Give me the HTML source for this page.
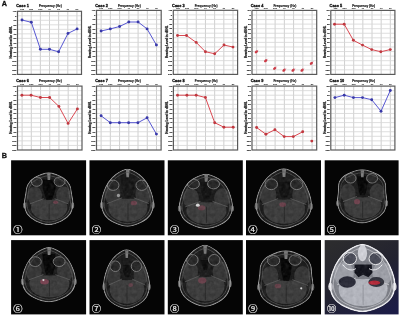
<!DOCTYPE html>
<html><head><meta charset="utf-8"><title>Figure</title>
<style>
html,body{margin:0;padding:0;background:#fff;}
body{width:400px;height:316px;overflow:hidden;position:relative;}
svg{position:absolute;left:0;top:0;display:block;}
.gv{stroke:#c4c4c4;stroke-width:0.8;}
.gh{stroke:#d6d6d6;stroke-width:0.8;}
.fr{fill:none;stroke:#5a5a5a;stroke-width:1.2;}
text{font-family:"Liberation Sans",Arial,sans-serif;}
.yt{font-size:2.5px;text-anchor:end;fill:#333;font-weight:bold;stroke:#333;stroke-width:0.16;}
.xt{font-size:2.4px;text-anchor:middle;fill:#444;font-weight:bold;stroke:#444;stroke-width:0.08;}
.ct{font-size:4.1px;font-weight:bold;fill:#111;stroke:#111;stroke-width:0.3;}
.ft{font-size:3.2px;font-weight:bold;fill:#1a1a1a;stroke:#1a1a1a;stroke-width:0.16;}
.yl{font-size:2.9px;font-weight:bold;fill:#1a1a1a;text-anchor:middle;stroke:#1a1a1a;stroke-width:0.2;}
.pl{font-size:7.2px;font-weight:bold;fill:#111;stroke:#111;stroke-width:0.3;}
.cn{font-size:9.3px;fill:#ececec;stroke:#e0e0e0;stroke-width:0.22;text-anchor:middle;font-family:"Liberation Sans","Noto Sans CJK SC",sans-serif;}
</style></head>
<body>
<svg width="400" height="316" viewBox="0 0 400 316">
<defs><linearGradient id="bg10" x1="0.2" y1="0" x2="0.8" y2="1"><stop offset="0" stop-color="#2c2c2e"/><stop offset="0.5" stop-color="#232330"/><stop offset="1" stop-color="#1c1c46"/></linearGradient>
<filter id="bl" x="-5%" y="-5%" width="110%" height="110%" color-interpolation-filters="sRGB">
<feGaussianBlur in="SourceGraphic" stdDeviation="0.4" result="b"/>
<feTurbulence type="fractalNoise" baseFrequency="0.28" numOctaves="2" seed="7" result="n"/>
<feColorMatrix in="n" type="matrix" values="0.33 0.33 0.33 0 0  0.33 0.33 0.33 0 0  0.33 0.33 0.33 0 0  0 0 0 0 1" result="g"/>
<feComposite in="b" in2="g" operator="arithmetic" k1="0" k2="1" k3="0.2" k4="-0.1" result="c"/>
<feComposite in="c" in2="b" operator="in"/>
</filter></defs>
<text x="1.8" y="6" class="pl">A</text>
<text x="1.8" y="157.9" class="pl">B</text>
<line x1="22.07" y1="11.3" x2="22.07" y2="74.4" class="gv"/>
<line x1="31.21" y1="11.3" x2="31.21" y2="74.4" class="gv"/>
<line x1="40.36" y1="11.3" x2="40.36" y2="74.4" class="gv"/>
<line x1="49.5" y1="11.3" x2="49.5" y2="74.4" class="gv"/>
<line x1="58.64" y1="11.3" x2="58.64" y2="74.4" class="gv"/>
<line x1="67.79" y1="11.3" x2="67.79" y2="74.4" class="gv"/>
<line x1="76.93" y1="11.3" x2="76.93" y2="74.4" class="gv"/>
<line x1="17.5" y1="15.81" x2="81.5" y2="15.81" class="gh"/>
<line x1="17.5" y1="20.31" x2="81.5" y2="20.31" class="gh"/>
<line x1="17.5" y1="24.82" x2="81.5" y2="24.82" class="gh"/>
<line x1="17.5" y1="29.33" x2="81.5" y2="29.33" class="gh"/>
<line x1="17.5" y1="33.84" x2="81.5" y2="33.84" class="gh"/>
<line x1="17.5" y1="38.34" x2="81.5" y2="38.34" class="gh"/>
<line x1="17.5" y1="42.85" x2="81.5" y2="42.85" class="gh"/>
<line x1="17.5" y1="47.36" x2="81.5" y2="47.36" class="gh"/>
<line x1="17.5" y1="51.86" x2="81.5" y2="51.86" class="gh"/>
<line x1="17.5" y1="56.37" x2="81.5" y2="56.37" class="gh"/>
<line x1="17.5" y1="60.88" x2="81.5" y2="60.88" class="gh"/>
<line x1="17.5" y1="65.39" x2="81.5" y2="65.39" class="gh"/>
<line x1="17.5" y1="69.89" x2="81.5" y2="69.89" class="gh"/>
<rect x="17.5" y="11.3" width="64" height="63.1" class="fr"/>
<text x="16.4" y="12.15" class="yt">-10</text>
<text x="16.4" y="16.66" class="yt">0</text>
<text x="16.4" y="21.16" class="yt">10</text>
<text x="16.4" y="25.67" class="yt">20</text>
<text x="16.4" y="30.18" class="yt">30</text>
<text x="16.4" y="34.69" class="yt">40</text>
<text x="16.4" y="39.19" class="yt">50</text>
<text x="16.4" y="43.7" class="yt">60</text>
<text x="16.4" y="48.21" class="yt">70</text>
<text x="16.4" y="52.71" class="yt">80</text>
<text x="16.4" y="57.22" class="yt">90</text>
<text x="16.4" y="61.73" class="yt">100</text>
<text x="16.4" y="66.24" class="yt">110</text>
<text x="16.4" y="70.74" class="yt">120</text>
<text x="16.4" y="75.25" class="yt">130</text>
<text x="22.07" y="10.2" class="xt">125</text>
<text x="31.21" y="10.2" class="xt">250</text>
<text x="40.36" y="10.2" class="xt">500</text>
<text x="49.5" y="10.2" class="xt">1k</text>
<text x="58.64" y="10.2" class="xt">2k</text>
<text x="67.79" y="10.2" class="xt">4k</text>
<text x="76.93" y="10.2" class="xt">8k</text>
<text x="16.3" y="6.6" class="ct" textLength="12.6" lengthAdjust="spacingAndGlyphs">Case 1</text>
<text x="38.9" y="6.6" class="ft" textLength="22.8" lengthAdjust="spacingAndGlyphs">Frequency (Hz)</text>
<text transform="translate(12.2,42.22) rotate(-90)" class="yl" textLength="32.5" lengthAdjust="spacingAndGlyphs">Hearing Level in dBHL</text>
<polyline points="22,20 31.3,22.3 40.4,49.3 49.5,49.3 58.6,51.8 68,33.4 77.1,28.9" fill="none" stroke="#4e4ed0" stroke-width="0.95" stroke-linejoin="round"/>
<circle cx="22" cy="20" r="1.45" fill="#3838a8"/>
<circle cx="31.3" cy="22.3" r="1.45" fill="#3838a8"/>
<circle cx="40.4" cy="49.3" r="1.45" fill="#3838a8"/>
<circle cx="49.5" cy="49.3" r="1.45" fill="#3838a8"/>
<circle cx="58.6" cy="51.8" r="1.45" fill="#3838a8"/>
<circle cx="68" cy="33.4" r="1.45" fill="#3838a8"/>
<circle cx="77.1" cy="28.9" r="1.45" fill="#3838a8"/>
<line x1="101.12" y1="10.4" x2="101.12" y2="74.4" class="gv"/>
<line x1="110.36" y1="10.4" x2="110.36" y2="74.4" class="gv"/>
<line x1="119.61" y1="10.4" x2="119.61" y2="74.4" class="gv"/>
<line x1="128.85" y1="10.4" x2="128.85" y2="74.4" class="gv"/>
<line x1="138.09" y1="10.4" x2="138.09" y2="74.4" class="gv"/>
<line x1="147.34" y1="10.4" x2="147.34" y2="74.4" class="gv"/>
<line x1="156.58" y1="10.4" x2="156.58" y2="74.4" class="gv"/>
<line x1="96.5" y1="14.97" x2="161.2" y2="14.97" class="gh"/>
<line x1="96.5" y1="19.54" x2="161.2" y2="19.54" class="gh"/>
<line x1="96.5" y1="24.11" x2="161.2" y2="24.11" class="gh"/>
<line x1="96.5" y1="28.69" x2="161.2" y2="28.69" class="gh"/>
<line x1="96.5" y1="33.26" x2="161.2" y2="33.26" class="gh"/>
<line x1="96.5" y1="37.83" x2="161.2" y2="37.83" class="gh"/>
<line x1="96.5" y1="42.4" x2="161.2" y2="42.4" class="gh"/>
<line x1="96.5" y1="46.97" x2="161.2" y2="46.97" class="gh"/>
<line x1="96.5" y1="51.54" x2="161.2" y2="51.54" class="gh"/>
<line x1="96.5" y1="56.11" x2="161.2" y2="56.11" class="gh"/>
<line x1="96.5" y1="60.69" x2="161.2" y2="60.69" class="gh"/>
<line x1="96.5" y1="65.26" x2="161.2" y2="65.26" class="gh"/>
<line x1="96.5" y1="69.83" x2="161.2" y2="69.83" class="gh"/>
<rect x="96.5" y="10.4" width="64.7" height="64" class="fr"/>
<text x="95.4" y="11.25" class="yt">-10</text>
<text x="95.4" y="15.82" class="yt">0</text>
<text x="95.4" y="20.39" class="yt">10</text>
<text x="95.4" y="24.96" class="yt">20</text>
<text x="95.4" y="29.54" class="yt">30</text>
<text x="95.4" y="34.11" class="yt">40</text>
<text x="95.4" y="38.68" class="yt">50</text>
<text x="95.4" y="43.25" class="yt">60</text>
<text x="95.4" y="47.82" class="yt">70</text>
<text x="95.4" y="52.39" class="yt">80</text>
<text x="95.4" y="56.96" class="yt">90</text>
<text x="95.4" y="61.54" class="yt">100</text>
<text x="95.4" y="66.11" class="yt">110</text>
<text x="95.4" y="70.68" class="yt">120</text>
<text x="95.4" y="75.25" class="yt">130</text>
<text x="101.12" y="9.3" class="xt">125</text>
<text x="110.36" y="9.3" class="xt">250</text>
<text x="119.61" y="9.3" class="xt">500</text>
<text x="128.85" y="9.3" class="xt">1k</text>
<text x="138.09" y="9.3" class="xt">2k</text>
<text x="147.34" y="9.3" class="xt">4k</text>
<text x="156.58" y="9.3" class="xt">8k</text>
<text x="95.3" y="6.6" class="ct" textLength="12.6" lengthAdjust="spacingAndGlyphs">Case 2</text>
<text x="117.9" y="6.6" class="ft" textLength="22.8" lengthAdjust="spacingAndGlyphs">Frequency (Hz)</text>
<text transform="translate(91.2,41.76) rotate(-90)" class="yl" textLength="32.5" lengthAdjust="spacingAndGlyphs">Hearing Level in dBHL</text>
<polyline points="101.1,31 110.3,28.9 119.6,26.5 128.8,22 138.1,22 147.1,28.9 156.4,45" fill="none" stroke="#4e4ed0" stroke-width="0.95" stroke-linejoin="round"/>
<circle cx="101.1" cy="31" r="1.45" fill="#3838a8"/>
<circle cx="110.3" cy="28.9" r="1.45" fill="#3838a8"/>
<circle cx="119.6" cy="26.5" r="1.45" fill="#3838a8"/>
<circle cx="128.8" cy="22" r="1.45" fill="#3838a8"/>
<circle cx="138.1" cy="22" r="1.45" fill="#3838a8"/>
<circle cx="147.1" cy="28.9" r="1.45" fill="#3838a8"/>
<circle cx="156.4" cy="45" r="1.45" fill="#3838a8"/>
<line x1="177.89" y1="10.3" x2="177.89" y2="74.4" class="gv"/>
<line x1="187.08" y1="10.3" x2="187.08" y2="74.4" class="gv"/>
<line x1="196.26" y1="10.3" x2="196.26" y2="74.4" class="gv"/>
<line x1="205.45" y1="10.3" x2="205.45" y2="74.4" class="gv"/>
<line x1="214.64" y1="10.3" x2="214.64" y2="74.4" class="gv"/>
<line x1="223.82" y1="10.3" x2="223.82" y2="74.4" class="gv"/>
<line x1="233.01" y1="10.3" x2="233.01" y2="74.4" class="gv"/>
<line x1="173.3" y1="14.88" x2="237.6" y2="14.88" class="gh"/>
<line x1="173.3" y1="19.46" x2="237.6" y2="19.46" class="gh"/>
<line x1="173.3" y1="24.04" x2="237.6" y2="24.04" class="gh"/>
<line x1="173.3" y1="28.61" x2="237.6" y2="28.61" class="gh"/>
<line x1="173.3" y1="33.19" x2="237.6" y2="33.19" class="gh"/>
<line x1="173.3" y1="37.77" x2="237.6" y2="37.77" class="gh"/>
<line x1="173.3" y1="42.35" x2="237.6" y2="42.35" class="gh"/>
<line x1="173.3" y1="46.93" x2="237.6" y2="46.93" class="gh"/>
<line x1="173.3" y1="51.51" x2="237.6" y2="51.51" class="gh"/>
<line x1="173.3" y1="56.09" x2="237.6" y2="56.09" class="gh"/>
<line x1="173.3" y1="60.66" x2="237.6" y2="60.66" class="gh"/>
<line x1="173.3" y1="65.24" x2="237.6" y2="65.24" class="gh"/>
<line x1="173.3" y1="69.82" x2="237.6" y2="69.82" class="gh"/>
<rect x="173.3" y="10.3" width="64.3" height="64.1" class="fr"/>
<text x="172.2" y="11.15" class="yt">-10</text>
<text x="172.2" y="15.73" class="yt">0</text>
<text x="172.2" y="20.31" class="yt">10</text>
<text x="172.2" y="24.89" class="yt">20</text>
<text x="172.2" y="29.46" class="yt">30</text>
<text x="172.2" y="34.04" class="yt">40</text>
<text x="172.2" y="38.62" class="yt">50</text>
<text x="172.2" y="43.2" class="yt">60</text>
<text x="172.2" y="47.78" class="yt">70</text>
<text x="172.2" y="52.36" class="yt">80</text>
<text x="172.2" y="56.94" class="yt">90</text>
<text x="172.2" y="61.51" class="yt">100</text>
<text x="172.2" y="66.09" class="yt">110</text>
<text x="172.2" y="70.67" class="yt">120</text>
<text x="172.2" y="75.25" class="yt">130</text>
<text x="177.89" y="9.2" class="xt">125</text>
<text x="187.08" y="9.2" class="xt">250</text>
<text x="196.26" y="9.2" class="xt">500</text>
<text x="205.45" y="9.2" class="xt">1k</text>
<text x="214.64" y="9.2" class="xt">2k</text>
<text x="223.82" y="9.2" class="xt">4k</text>
<text x="233.01" y="9.2" class="xt">8k</text>
<text x="172.1" y="6.6" class="ct" textLength="12.6" lengthAdjust="spacingAndGlyphs">Case 3</text>
<text x="194.7" y="6.6" class="ft" textLength="22.8" lengthAdjust="spacingAndGlyphs">Frequency (Hz)</text>
<text transform="translate(168,41.71) rotate(-90)" class="yl" textLength="32.5" lengthAdjust="spacingAndGlyphs">Hearing Level in dBHL</text>
<polyline points="177.5,35.5 186.5,35.5 196.2,42.4 205.4,51.7 214.7,53.8 224,45 233,47.1" fill="none" stroke="#d8404a" stroke-width="0.95" stroke-linejoin="round"/>
<circle cx="177.5" cy="35.5" r="1.45" fill="#c0383f"/>
<circle cx="186.5" cy="35.5" r="1.45" fill="#c0383f"/>
<circle cx="196.2" cy="42.4" r="1.45" fill="#c0383f"/>
<circle cx="205.4" cy="51.7" r="1.45" fill="#c0383f"/>
<circle cx="214.7" cy="53.8" r="1.45" fill="#c0383f"/>
<circle cx="224" cy="45" r="1.45" fill="#c0383f"/>
<circle cx="233" cy="47.1" r="1.45" fill="#c0383f"/>
<line x1="256.62" y1="10.4" x2="256.62" y2="74.4" class="gv"/>
<line x1="265.86" y1="10.4" x2="265.86" y2="74.4" class="gv"/>
<line x1="275.11" y1="10.4" x2="275.11" y2="74.4" class="gv"/>
<line x1="284.35" y1="10.4" x2="284.35" y2="74.4" class="gv"/>
<line x1="293.59" y1="10.4" x2="293.59" y2="74.4" class="gv"/>
<line x1="302.84" y1="10.4" x2="302.84" y2="74.4" class="gv"/>
<line x1="312.08" y1="10.4" x2="312.08" y2="74.4" class="gv"/>
<line x1="252" y1="14.97" x2="316.7" y2="14.97" class="gh"/>
<line x1="252" y1="19.54" x2="316.7" y2="19.54" class="gh"/>
<line x1="252" y1="24.11" x2="316.7" y2="24.11" class="gh"/>
<line x1="252" y1="28.69" x2="316.7" y2="28.69" class="gh"/>
<line x1="252" y1="33.26" x2="316.7" y2="33.26" class="gh"/>
<line x1="252" y1="37.83" x2="316.7" y2="37.83" class="gh"/>
<line x1="252" y1="42.4" x2="316.7" y2="42.4" class="gh"/>
<line x1="252" y1="46.97" x2="316.7" y2="46.97" class="gh"/>
<line x1="252" y1="51.54" x2="316.7" y2="51.54" class="gh"/>
<line x1="252" y1="56.11" x2="316.7" y2="56.11" class="gh"/>
<line x1="252" y1="60.69" x2="316.7" y2="60.69" class="gh"/>
<line x1="252" y1="65.26" x2="316.7" y2="65.26" class="gh"/>
<line x1="252" y1="69.83" x2="316.7" y2="69.83" class="gh"/>
<rect x="252" y="10.4" width="64.7" height="64" class="fr"/>
<text x="250.9" y="11.25" class="yt">-10</text>
<text x="250.9" y="15.82" class="yt">0</text>
<text x="250.9" y="20.39" class="yt">10</text>
<text x="250.9" y="24.96" class="yt">20</text>
<text x="250.9" y="29.54" class="yt">30</text>
<text x="250.9" y="34.11" class="yt">40</text>
<text x="250.9" y="38.68" class="yt">50</text>
<text x="250.9" y="43.25" class="yt">60</text>
<text x="250.9" y="47.82" class="yt">70</text>
<text x="250.9" y="52.39" class="yt">80</text>
<text x="250.9" y="56.96" class="yt">90</text>
<text x="250.9" y="61.54" class="yt">100</text>
<text x="250.9" y="66.11" class="yt">110</text>
<text x="250.9" y="70.68" class="yt">120</text>
<text x="250.9" y="75.25" class="yt">130</text>
<text x="256.62" y="9.3" class="xt">125</text>
<text x="265.86" y="9.3" class="xt">250</text>
<text x="275.11" y="9.3" class="xt">500</text>
<text x="284.35" y="9.3" class="xt">1k</text>
<text x="293.59" y="9.3" class="xt">2k</text>
<text x="302.84" y="9.3" class="xt">4k</text>
<text x="312.08" y="9.3" class="xt">8k</text>
<text x="250.8" y="6.6" class="ct" textLength="12.6" lengthAdjust="spacingAndGlyphs">Case 4</text>
<text x="273.4" y="6.6" class="ft" textLength="22.8" lengthAdjust="spacingAndGlyphs">Frequency (Hz)</text>
<text transform="translate(246.7,41.76) rotate(-90)" class="yl" textLength="32.5" lengthAdjust="spacingAndGlyphs">Hearing Level in dBHL</text>
<ellipse cx="256.4" cy="51.8" rx="1.9" ry="1.25" transform="rotate(-40 256.4 51.8)" fill="#cc3a46"/>
<path d="M257.2,51.1 L258.4,49.9" stroke="#d08090" stroke-width="0.6"/>
<ellipse cx="265.7" cy="60.7" rx="1.9" ry="1.25" transform="rotate(-40 265.7 60.7)" fill="#cc3a46"/>
<path d="M266.5,60 L267.7,58.8" stroke="#d08090" stroke-width="0.6"/>
<ellipse cx="274.7" cy="68.4" rx="1.9" ry="1.25" transform="rotate(-40 274.7 68.4)" fill="#cc3a46"/>
<path d="M275.5,67.7 L276.7,66.5" stroke="#d08090" stroke-width="0.6"/>
<ellipse cx="284" cy="70.2" rx="1.9" ry="1.25" transform="rotate(-40 284 70.2)" fill="#cc3a46"/>
<path d="M284.8,69.5 L286,68.3" stroke="#d08090" stroke-width="0.6"/>
<ellipse cx="293.1" cy="70.2" rx="1.9" ry="1.25" transform="rotate(-40 293.1 70.2)" fill="#cc3a46"/>
<path d="M293.9,69.5 L295.1,68.3" stroke="#d08090" stroke-width="0.6"/>
<ellipse cx="302.1" cy="70.2" rx="1.9" ry="1.25" transform="rotate(-40 302.1 70.2)" fill="#cc3a46"/>
<path d="M302.9,69.5 L304.1,68.3" stroke="#d08090" stroke-width="0.6"/>
<ellipse cx="311.4" cy="63.3" rx="1.9" ry="1.25" transform="rotate(-40 311.4 63.3)" fill="#cc3a46"/>
<path d="M312.2,62.6 L313.4,61.4" stroke="#d08090" stroke-width="0.6"/>
<line x1="335.38" y1="10.4" x2="335.38" y2="74.4" class="gv"/>
<line x1="344.54" y1="10.4" x2="344.54" y2="74.4" class="gv"/>
<line x1="353.69" y1="10.4" x2="353.69" y2="74.4" class="gv"/>
<line x1="362.85" y1="10.4" x2="362.85" y2="74.4" class="gv"/>
<line x1="372.01" y1="10.4" x2="372.01" y2="74.4" class="gv"/>
<line x1="381.16" y1="10.4" x2="381.16" y2="74.4" class="gv"/>
<line x1="390.32" y1="10.4" x2="390.32" y2="74.4" class="gv"/>
<line x1="330.8" y1="14.97" x2="394.9" y2="14.97" class="gh"/>
<line x1="330.8" y1="19.54" x2="394.9" y2="19.54" class="gh"/>
<line x1="330.8" y1="24.11" x2="394.9" y2="24.11" class="gh"/>
<line x1="330.8" y1="28.69" x2="394.9" y2="28.69" class="gh"/>
<line x1="330.8" y1="33.26" x2="394.9" y2="33.26" class="gh"/>
<line x1="330.8" y1="37.83" x2="394.9" y2="37.83" class="gh"/>
<line x1="330.8" y1="42.4" x2="394.9" y2="42.4" class="gh"/>
<line x1="330.8" y1="46.97" x2="394.9" y2="46.97" class="gh"/>
<line x1="330.8" y1="51.54" x2="394.9" y2="51.54" class="gh"/>
<line x1="330.8" y1="56.11" x2="394.9" y2="56.11" class="gh"/>
<line x1="330.8" y1="60.69" x2="394.9" y2="60.69" class="gh"/>
<line x1="330.8" y1="65.26" x2="394.9" y2="65.26" class="gh"/>
<line x1="330.8" y1="69.83" x2="394.9" y2="69.83" class="gh"/>
<rect x="330.8" y="10.4" width="64.1" height="64" class="fr"/>
<text x="329.7" y="11.25" class="yt">-10</text>
<text x="329.7" y="15.82" class="yt">0</text>
<text x="329.7" y="20.39" class="yt">10</text>
<text x="329.7" y="24.96" class="yt">20</text>
<text x="329.7" y="29.54" class="yt">30</text>
<text x="329.7" y="34.11" class="yt">40</text>
<text x="329.7" y="38.68" class="yt">50</text>
<text x="329.7" y="43.25" class="yt">60</text>
<text x="329.7" y="47.82" class="yt">70</text>
<text x="329.7" y="52.39" class="yt">80</text>
<text x="329.7" y="56.96" class="yt">90</text>
<text x="329.7" y="61.54" class="yt">100</text>
<text x="329.7" y="66.11" class="yt">110</text>
<text x="329.7" y="70.68" class="yt">120</text>
<text x="329.7" y="75.25" class="yt">130</text>
<text x="335.38" y="9.3" class="xt">125</text>
<text x="344.54" y="9.3" class="xt">250</text>
<text x="353.69" y="9.3" class="xt">500</text>
<text x="362.85" y="9.3" class="xt">1k</text>
<text x="372.01" y="9.3" class="xt">2k</text>
<text x="381.16" y="9.3" class="xt">4k</text>
<text x="390.32" y="9.3" class="xt">8k</text>
<text x="329.6" y="6.6" class="ct" textLength="12.6" lengthAdjust="spacingAndGlyphs">Case 5</text>
<text x="352.2" y="6.6" class="ft" textLength="22.8" lengthAdjust="spacingAndGlyphs">Frequency (Hz)</text>
<text transform="translate(325.5,41.76) rotate(-90)" class="yl" textLength="32.5" lengthAdjust="spacingAndGlyphs">Hearing Level in dBHL</text>
<polyline points="334.5,24.2 344.2,24.2 353.4,40.3 362.5,45.1 371.7,49.6 380.8,51.7 390.3,49.6" fill="none" stroke="#d8404a" stroke-width="0.95" stroke-linejoin="round"/>
<circle cx="334.5" cy="24.2" r="1.45" fill="#c0383f"/>
<circle cx="344.2" cy="24.2" r="1.45" fill="#c0383f"/>
<circle cx="353.4" cy="40.3" r="1.45" fill="#c0383f"/>
<circle cx="362.5" cy="45.1" r="1.45" fill="#c0383f"/>
<circle cx="371.7" cy="49.6" r="1.45" fill="#c0383f"/>
<circle cx="380.8" cy="51.7" r="1.45" fill="#c0383f"/>
<circle cx="390.3" cy="49.6" r="1.45" fill="#c0383f"/>
<line x1="22.11" y1="86.1" x2="22.11" y2="150" class="gv"/>
<line x1="31.32" y1="86.1" x2="31.32" y2="150" class="gv"/>
<line x1="40.54" y1="86.1" x2="40.54" y2="150" class="gv"/>
<line x1="49.75" y1="86.1" x2="49.75" y2="150" class="gv"/>
<line x1="58.96" y1="86.1" x2="58.96" y2="150" class="gv"/>
<line x1="68.18" y1="86.1" x2="68.18" y2="150" class="gv"/>
<line x1="77.39" y1="86.1" x2="77.39" y2="150" class="gv"/>
<line x1="17.5" y1="90.66" x2="82" y2="90.66" class="gh"/>
<line x1="17.5" y1="95.23" x2="82" y2="95.23" class="gh"/>
<line x1="17.5" y1="99.79" x2="82" y2="99.79" class="gh"/>
<line x1="17.5" y1="104.36" x2="82" y2="104.36" class="gh"/>
<line x1="17.5" y1="108.92" x2="82" y2="108.92" class="gh"/>
<line x1="17.5" y1="113.49" x2="82" y2="113.49" class="gh"/>
<line x1="17.5" y1="118.05" x2="82" y2="118.05" class="gh"/>
<line x1="17.5" y1="122.61" x2="82" y2="122.61" class="gh"/>
<line x1="17.5" y1="127.18" x2="82" y2="127.18" class="gh"/>
<line x1="17.5" y1="131.74" x2="82" y2="131.74" class="gh"/>
<line x1="17.5" y1="136.31" x2="82" y2="136.31" class="gh"/>
<line x1="17.5" y1="140.87" x2="82" y2="140.87" class="gh"/>
<line x1="17.5" y1="145.44" x2="82" y2="145.44" class="gh"/>
<rect x="17.5" y="86.1" width="64.5" height="63.9" class="fr"/>
<text x="16.4" y="86.95" class="yt">-10</text>
<text x="16.4" y="91.51" class="yt">0</text>
<text x="16.4" y="96.08" class="yt">10</text>
<text x="16.4" y="100.64" class="yt">20</text>
<text x="16.4" y="105.21" class="yt">30</text>
<text x="16.4" y="109.77" class="yt">40</text>
<text x="16.4" y="114.34" class="yt">50</text>
<text x="16.4" y="118.9" class="yt">60</text>
<text x="16.4" y="123.46" class="yt">70</text>
<text x="16.4" y="128.03" class="yt">80</text>
<text x="16.4" y="132.59" class="yt">90</text>
<text x="16.4" y="137.16" class="yt">100</text>
<text x="16.4" y="141.72" class="yt">110</text>
<text x="16.4" y="146.29" class="yt">120</text>
<text x="16.4" y="150.85" class="yt">130</text>
<text x="22.11" y="85" class="xt">125</text>
<text x="31.32" y="85" class="xt">250</text>
<text x="40.54" y="85" class="xt">500</text>
<text x="49.75" y="85" class="xt">1k</text>
<text x="58.96" y="85" class="xt">2k</text>
<text x="68.18" y="85" class="xt">4k</text>
<text x="77.39" y="85" class="xt">8k</text>
<text x="16.3" y="82.2" class="ct" textLength="12.6" lengthAdjust="spacingAndGlyphs">Case 6</text>
<text x="38.9" y="82.2" class="ft" textLength="22.8" lengthAdjust="spacingAndGlyphs">Frequency (Hz)</text>
<text transform="translate(12.2,117.41) rotate(-90)" class="yl" textLength="32.5" lengthAdjust="spacingAndGlyphs">Hearing Level in dBHL</text>
<polyline points="21.9,95.2 31.1,95.2 40.4,97.5 49.6,97.5 58.9,106.4 68.1,123.4 77.4,108.9" fill="none" stroke="#d8404a" stroke-width="0.95" stroke-linejoin="round"/>
<circle cx="21.9" cy="95.2" r="1.45" fill="#c0383f"/>
<circle cx="31.1" cy="95.2" r="1.45" fill="#c0383f"/>
<circle cx="40.4" cy="97.5" r="1.45" fill="#c0383f"/>
<circle cx="49.6" cy="97.5" r="1.45" fill="#c0383f"/>
<circle cx="58.9" cy="106.4" r="1.45" fill="#c0383f"/>
<circle cx="68.1" cy="123.4" r="1.45" fill="#c0383f"/>
<circle cx="77.4" cy="108.9" r="1.45" fill="#c0383f"/>
<line x1="101.11" y1="86.1" x2="101.11" y2="150" class="gv"/>
<line x1="110.34" y1="86.1" x2="110.34" y2="150" class="gv"/>
<line x1="119.57" y1="86.1" x2="119.57" y2="150" class="gv"/>
<line x1="128.8" y1="86.1" x2="128.8" y2="150" class="gv"/>
<line x1="138.03" y1="86.1" x2="138.03" y2="150" class="gv"/>
<line x1="147.26" y1="86.1" x2="147.26" y2="150" class="gv"/>
<line x1="156.49" y1="86.1" x2="156.49" y2="150" class="gv"/>
<line x1="96.5" y1="90.66" x2="161.1" y2="90.66" class="gh"/>
<line x1="96.5" y1="95.23" x2="161.1" y2="95.23" class="gh"/>
<line x1="96.5" y1="99.79" x2="161.1" y2="99.79" class="gh"/>
<line x1="96.5" y1="104.36" x2="161.1" y2="104.36" class="gh"/>
<line x1="96.5" y1="108.92" x2="161.1" y2="108.92" class="gh"/>
<line x1="96.5" y1="113.49" x2="161.1" y2="113.49" class="gh"/>
<line x1="96.5" y1="118.05" x2="161.1" y2="118.05" class="gh"/>
<line x1="96.5" y1="122.61" x2="161.1" y2="122.61" class="gh"/>
<line x1="96.5" y1="127.18" x2="161.1" y2="127.18" class="gh"/>
<line x1="96.5" y1="131.74" x2="161.1" y2="131.74" class="gh"/>
<line x1="96.5" y1="136.31" x2="161.1" y2="136.31" class="gh"/>
<line x1="96.5" y1="140.87" x2="161.1" y2="140.87" class="gh"/>
<line x1="96.5" y1="145.44" x2="161.1" y2="145.44" class="gh"/>
<rect x="96.5" y="86.1" width="64.6" height="63.9" class="fr"/>
<text x="95.4" y="86.95" class="yt">-10</text>
<text x="95.4" y="91.51" class="yt">0</text>
<text x="95.4" y="96.08" class="yt">10</text>
<text x="95.4" y="100.64" class="yt">20</text>
<text x="95.4" y="105.21" class="yt">30</text>
<text x="95.4" y="109.77" class="yt">40</text>
<text x="95.4" y="114.34" class="yt">50</text>
<text x="95.4" y="118.9" class="yt">60</text>
<text x="95.4" y="123.46" class="yt">70</text>
<text x="95.4" y="128.03" class="yt">80</text>
<text x="95.4" y="132.59" class="yt">90</text>
<text x="95.4" y="137.16" class="yt">100</text>
<text x="95.4" y="141.72" class="yt">110</text>
<text x="95.4" y="146.29" class="yt">120</text>
<text x="95.4" y="150.85" class="yt">130</text>
<text x="101.11" y="85" class="xt">125</text>
<text x="110.34" y="85" class="xt">250</text>
<text x="119.57" y="85" class="xt">500</text>
<text x="128.8" y="85" class="xt">1k</text>
<text x="138.03" y="85" class="xt">2k</text>
<text x="147.26" y="85" class="xt">4k</text>
<text x="156.49" y="85" class="xt">8k</text>
<text x="95.3" y="82.2" class="ct" textLength="12.6" lengthAdjust="spacingAndGlyphs">Case 7</text>
<text x="117.9" y="82.2" class="ft" textLength="22.8" lengthAdjust="spacingAndGlyphs">Frequency (Hz)</text>
<text transform="translate(91.2,117.41) rotate(-90)" class="yl" textLength="32.5" lengthAdjust="spacingAndGlyphs">Hearing Level in dBHL</text>
<polyline points="101.1,115.8 110.3,122.7 119.4,122.7 128.6,122.7 137.9,122.7 147.1,117.8 156.4,134.1" fill="none" stroke="#4e4ed0" stroke-width="0.95" stroke-linejoin="round"/>
<circle cx="101.1" cy="115.8" r="1.45" fill="#3838a8"/>
<circle cx="110.3" cy="122.7" r="1.45" fill="#3838a8"/>
<circle cx="119.4" cy="122.7" r="1.45" fill="#3838a8"/>
<circle cx="128.6" cy="122.7" r="1.45" fill="#3838a8"/>
<circle cx="137.9" cy="122.7" r="1.45" fill="#3838a8"/>
<circle cx="147.1" cy="117.8" r="1.45" fill="#3838a8"/>
<circle cx="156.4" cy="134.1" r="1.45" fill="#3838a8"/>
<line x1="177.99" y1="86.1" x2="177.99" y2="150" class="gv"/>
<line x1="187.16" y1="86.1" x2="187.16" y2="150" class="gv"/>
<line x1="196.33" y1="86.1" x2="196.33" y2="150" class="gv"/>
<line x1="205.5" y1="86.1" x2="205.5" y2="150" class="gv"/>
<line x1="214.67" y1="86.1" x2="214.67" y2="150" class="gv"/>
<line x1="223.84" y1="86.1" x2="223.84" y2="150" class="gv"/>
<line x1="233.01" y1="86.1" x2="233.01" y2="150" class="gv"/>
<line x1="173.4" y1="90.66" x2="237.6" y2="90.66" class="gh"/>
<line x1="173.4" y1="95.23" x2="237.6" y2="95.23" class="gh"/>
<line x1="173.4" y1="99.79" x2="237.6" y2="99.79" class="gh"/>
<line x1="173.4" y1="104.36" x2="237.6" y2="104.36" class="gh"/>
<line x1="173.4" y1="108.92" x2="237.6" y2="108.92" class="gh"/>
<line x1="173.4" y1="113.49" x2="237.6" y2="113.49" class="gh"/>
<line x1="173.4" y1="118.05" x2="237.6" y2="118.05" class="gh"/>
<line x1="173.4" y1="122.61" x2="237.6" y2="122.61" class="gh"/>
<line x1="173.4" y1="127.18" x2="237.6" y2="127.18" class="gh"/>
<line x1="173.4" y1="131.74" x2="237.6" y2="131.74" class="gh"/>
<line x1="173.4" y1="136.31" x2="237.6" y2="136.31" class="gh"/>
<line x1="173.4" y1="140.87" x2="237.6" y2="140.87" class="gh"/>
<line x1="173.4" y1="145.44" x2="237.6" y2="145.44" class="gh"/>
<rect x="173.4" y="86.1" width="64.2" height="63.9" class="fr"/>
<text x="172.3" y="86.95" class="yt">-10</text>
<text x="172.3" y="91.51" class="yt">0</text>
<text x="172.3" y="96.08" class="yt">10</text>
<text x="172.3" y="100.64" class="yt">20</text>
<text x="172.3" y="105.21" class="yt">30</text>
<text x="172.3" y="109.77" class="yt">40</text>
<text x="172.3" y="114.34" class="yt">50</text>
<text x="172.3" y="118.9" class="yt">60</text>
<text x="172.3" y="123.46" class="yt">70</text>
<text x="172.3" y="128.03" class="yt">80</text>
<text x="172.3" y="132.59" class="yt">90</text>
<text x="172.3" y="137.16" class="yt">100</text>
<text x="172.3" y="141.72" class="yt">110</text>
<text x="172.3" y="146.29" class="yt">120</text>
<text x="172.3" y="150.85" class="yt">130</text>
<text x="177.99" y="85" class="xt">125</text>
<text x="187.16" y="85" class="xt">250</text>
<text x="196.33" y="85" class="xt">500</text>
<text x="205.5" y="85" class="xt">1k</text>
<text x="214.67" y="85" class="xt">2k</text>
<text x="223.84" y="85" class="xt">4k</text>
<text x="233.01" y="85" class="xt">8k</text>
<text x="172.2" y="82.2" class="ct" textLength="12.6" lengthAdjust="spacingAndGlyphs">Case 8</text>
<text x="194.8" y="82.2" class="ft" textLength="22.8" lengthAdjust="spacingAndGlyphs">Frequency (Hz)</text>
<text transform="translate(168.1,117.41) rotate(-90)" class="yl" textLength="32.5" lengthAdjust="spacingAndGlyphs">Hearing Level in dBHL</text>
<polyline points="177.5,95.2 186.9,95.2 196.2,95.2 205.4,97.5 214.7,122.7 223.9,127.2 233.2,127.2" fill="none" stroke="#d8404a" stroke-width="0.95" stroke-linejoin="round"/>
<circle cx="177.5" cy="95.2" r="1.45" fill="#c0383f"/>
<circle cx="186.9" cy="95.2" r="1.45" fill="#c0383f"/>
<circle cx="196.2" cy="95.2" r="1.45" fill="#c0383f"/>
<circle cx="205.4" cy="97.5" r="1.45" fill="#c0383f"/>
<circle cx="214.7" cy="122.7" r="1.45" fill="#c0383f"/>
<circle cx="223.9" cy="127.2" r="1.45" fill="#c0383f"/>
<circle cx="233.2" cy="127.2" r="1.45" fill="#c0383f"/>
<line x1="256.62" y1="86.1" x2="256.62" y2="150" class="gv"/>
<line x1="265.86" y1="86.1" x2="265.86" y2="150" class="gv"/>
<line x1="275.11" y1="86.1" x2="275.11" y2="150" class="gv"/>
<line x1="284.35" y1="86.1" x2="284.35" y2="150" class="gv"/>
<line x1="293.59" y1="86.1" x2="293.59" y2="150" class="gv"/>
<line x1="302.84" y1="86.1" x2="302.84" y2="150" class="gv"/>
<line x1="312.08" y1="86.1" x2="312.08" y2="150" class="gv"/>
<line x1="252" y1="90.66" x2="316.7" y2="90.66" class="gh"/>
<line x1="252" y1="95.23" x2="316.7" y2="95.23" class="gh"/>
<line x1="252" y1="99.79" x2="316.7" y2="99.79" class="gh"/>
<line x1="252" y1="104.36" x2="316.7" y2="104.36" class="gh"/>
<line x1="252" y1="108.92" x2="316.7" y2="108.92" class="gh"/>
<line x1="252" y1="113.49" x2="316.7" y2="113.49" class="gh"/>
<line x1="252" y1="118.05" x2="316.7" y2="118.05" class="gh"/>
<line x1="252" y1="122.61" x2="316.7" y2="122.61" class="gh"/>
<line x1="252" y1="127.18" x2="316.7" y2="127.18" class="gh"/>
<line x1="252" y1="131.74" x2="316.7" y2="131.74" class="gh"/>
<line x1="252" y1="136.31" x2="316.7" y2="136.31" class="gh"/>
<line x1="252" y1="140.87" x2="316.7" y2="140.87" class="gh"/>
<line x1="252" y1="145.44" x2="316.7" y2="145.44" class="gh"/>
<rect x="252" y="86.1" width="64.7" height="63.9" class="fr"/>
<text x="250.9" y="86.95" class="yt">-10</text>
<text x="250.9" y="91.51" class="yt">0</text>
<text x="250.9" y="96.08" class="yt">10</text>
<text x="250.9" y="100.64" class="yt">20</text>
<text x="250.9" y="105.21" class="yt">30</text>
<text x="250.9" y="109.77" class="yt">40</text>
<text x="250.9" y="114.34" class="yt">50</text>
<text x="250.9" y="118.9" class="yt">60</text>
<text x="250.9" y="123.46" class="yt">70</text>
<text x="250.9" y="128.03" class="yt">80</text>
<text x="250.9" y="132.59" class="yt">90</text>
<text x="250.9" y="137.16" class="yt">100</text>
<text x="250.9" y="141.72" class="yt">110</text>
<text x="250.9" y="146.29" class="yt">120</text>
<text x="250.9" y="150.85" class="yt">130</text>
<text x="256.62" y="85" class="xt">125</text>
<text x="265.86" y="85" class="xt">250</text>
<text x="275.11" y="85" class="xt">500</text>
<text x="284.35" y="85" class="xt">1k</text>
<text x="293.59" y="85" class="xt">2k</text>
<text x="302.84" y="85" class="xt">4k</text>
<text x="312.08" y="85" class="xt">8k</text>
<text x="250.8" y="82.2" class="ct" textLength="12.6" lengthAdjust="spacingAndGlyphs">Case 9</text>
<text x="273.4" y="82.2" class="ft" textLength="22.8" lengthAdjust="spacingAndGlyphs">Frequency (Hz)</text>
<text transform="translate(246.7,117.41) rotate(-90)" class="yl" textLength="32.5" lengthAdjust="spacingAndGlyphs">Hearing Level in dBHL</text>
<polyline points="256.6,127.5 265.9,134.2 274.9,129.7 284.2,136.6 293.3,136.6 302.7,131.8" fill="none" stroke="#d8404a" stroke-width="0.95" stroke-linejoin="round"/>
<circle cx="256.6" cy="127.5" r="1.45" fill="#c0383f"/>
<circle cx="265.9" cy="134.2" r="1.45" fill="#c0383f"/>
<circle cx="274.9" cy="129.7" r="1.45" fill="#c0383f"/>
<circle cx="284.2" cy="136.6" r="1.45" fill="#c0383f"/>
<circle cx="293.3" cy="136.6" r="1.45" fill="#c0383f"/>
<circle cx="302.7" cy="131.8" r="1.45" fill="#c0383f"/>
<circle cx="311.8" cy="141.1" r="1.45" fill="#c0383f"/>
<line x1="335.38" y1="86.1" x2="335.38" y2="150" class="gv"/>
<line x1="344.54" y1="86.1" x2="344.54" y2="150" class="gv"/>
<line x1="353.69" y1="86.1" x2="353.69" y2="150" class="gv"/>
<line x1="362.85" y1="86.1" x2="362.85" y2="150" class="gv"/>
<line x1="372.01" y1="86.1" x2="372.01" y2="150" class="gv"/>
<line x1="381.16" y1="86.1" x2="381.16" y2="150" class="gv"/>
<line x1="390.32" y1="86.1" x2="390.32" y2="150" class="gv"/>
<line x1="330.8" y1="90.66" x2="394.9" y2="90.66" class="gh"/>
<line x1="330.8" y1="95.23" x2="394.9" y2="95.23" class="gh"/>
<line x1="330.8" y1="99.79" x2="394.9" y2="99.79" class="gh"/>
<line x1="330.8" y1="104.36" x2="394.9" y2="104.36" class="gh"/>
<line x1="330.8" y1="108.92" x2="394.9" y2="108.92" class="gh"/>
<line x1="330.8" y1="113.49" x2="394.9" y2="113.49" class="gh"/>
<line x1="330.8" y1="118.05" x2="394.9" y2="118.05" class="gh"/>
<line x1="330.8" y1="122.61" x2="394.9" y2="122.61" class="gh"/>
<line x1="330.8" y1="127.18" x2="394.9" y2="127.18" class="gh"/>
<line x1="330.8" y1="131.74" x2="394.9" y2="131.74" class="gh"/>
<line x1="330.8" y1="136.31" x2="394.9" y2="136.31" class="gh"/>
<line x1="330.8" y1="140.87" x2="394.9" y2="140.87" class="gh"/>
<line x1="330.8" y1="145.44" x2="394.9" y2="145.44" class="gh"/>
<rect x="330.8" y="86.1" width="64.1" height="63.9" class="fr"/>
<text x="329.7" y="86.95" class="yt">-10</text>
<text x="329.7" y="91.51" class="yt">0</text>
<text x="329.7" y="96.08" class="yt">10</text>
<text x="329.7" y="100.64" class="yt">20</text>
<text x="329.7" y="105.21" class="yt">30</text>
<text x="329.7" y="109.77" class="yt">40</text>
<text x="329.7" y="114.34" class="yt">50</text>
<text x="329.7" y="118.9" class="yt">60</text>
<text x="329.7" y="123.46" class="yt">70</text>
<text x="329.7" y="128.03" class="yt">80</text>
<text x="329.7" y="132.59" class="yt">90</text>
<text x="329.7" y="137.16" class="yt">100</text>
<text x="329.7" y="141.72" class="yt">110</text>
<text x="329.7" y="146.29" class="yt">120</text>
<text x="329.7" y="150.85" class="yt">130</text>
<text x="335.38" y="85" class="xt">125</text>
<text x="344.54" y="85" class="xt">250</text>
<text x="353.69" y="85" class="xt">500</text>
<text x="362.85" y="85" class="xt">1k</text>
<text x="372.01" y="85" class="xt">2k</text>
<text x="381.16" y="85" class="xt">4k</text>
<text x="390.32" y="85" class="xt">8k</text>
<text x="329.6" y="82.2" class="ct" textLength="14.6" lengthAdjust="spacingAndGlyphs">Case 10</text>
<text x="352.2" y="82.2" class="ft" textLength="22.8" lengthAdjust="spacingAndGlyphs">Frequency (Hz)</text>
<text transform="translate(325.5,117.41) rotate(-90)" class="yl" textLength="32.5" lengthAdjust="spacingAndGlyphs">Hearing Level in dBHL</text>
<polyline points="334.9,97.6 344.2,95.2 353.4,97.6 362.5,97.6 371.7,99.7 381,111.2 390.3,90.5" fill="none" stroke="#4e4ed0" stroke-width="0.95" stroke-linejoin="round"/>
<circle cx="334.9" cy="97.6" r="1.45" fill="#3838a8"/>
<circle cx="344.2" cy="95.2" r="1.45" fill="#3838a8"/>
<circle cx="353.4" cy="97.6" r="1.45" fill="#3838a8"/>
<circle cx="362.5" cy="97.6" r="1.45" fill="#3838a8"/>
<circle cx="371.7" cy="99.7" r="1.45" fill="#3838a8"/>
<circle cx="381" cy="111.2" r="1.45" fill="#3838a8"/>
<circle cx="390.3" cy="90.5" r="1.45" fill="#3838a8"/>
<g transform="translate(11.1,160.3)">
<rect x="0" y="0" width="75" height="75" fill="#050505"/>
<g filter="url(#bl)"><g transform="translate(12.8,12.6) scale(0.4950,0.5160)"><clipPath id="hc0"><path d="M50.0,0.0 C59.4,0.0 71.3,5.2 78.3,9.0 C85.4,12.8 89.3,17.7 92.3,23.0 C95.4,28.3 95.3,34.7 96.4,41.0 C97.6,47.3 99.6,54.5 99.0,61.0 C98.4,67.5 96.8,74.7 93.0,80.0 C89.2,85.3 83.2,89.7 76.0,93.0 C68.8,96.3 58.7,100.0 50.0,100.0 C41.3,100.0 31.2,96.3 24.0,93.0 C16.8,89.7 10.8,85.3 7.0,80.0 C3.2,74.7 1.6,67.5 1.0,61.0 C0.4,54.5 2.4,47.3 3.6,41.0 C4.7,34.7 4.6,28.3 7.7,23.0 C10.7,17.7 14.6,12.8 21.7,9.0 C28.7,5.2 40.6,0.0 50.0,0.0 Z"/></clipPath>
<path d="M50.0,0.0 C59.4,0.0 71.3,5.2 78.3,9.0 C85.4,12.8 89.3,17.7 92.3,23.0 C95.4,28.3 95.3,34.7 96.4,41.0 C97.6,47.3 99.6,54.5 99.0,61.0 C98.4,67.5 96.8,74.7 93.0,80.0 C89.2,85.3 83.2,89.7 76.0,93.0 C68.8,96.3 58.7,100.0 50.0,100.0 C41.3,100.0 31.2,96.3 24.0,93.0 C16.8,89.7 10.8,85.3 7.0,80.0 C3.2,74.7 1.6,67.5 1.0,61.0 C0.4,54.5 2.4,47.3 3.6,41.0 C4.7,34.7 4.6,28.3 7.7,23.0 C10.7,17.7 14.6,12.8 21.7,9.0 C28.7,5.2 40.6,0.0 50.0,0.0 Z" fill="#1e1e1e"/>
<g clip-path="url(#hc0)">
<ellipse cx="22" cy="44" rx="15" ry="18" fill="#383838"/>
<ellipse cx="80" cy="44" rx="15" ry="18" fill="#383838"/>
<path d="M14,66 C14,54 30,50 51,52 C72,50 88,54 88,66 C88,82 72,92 51,92 C30,92 14,82 14,66 Z" fill="#3e3e3e"/>
<path d="M51,60 L51,90" stroke="#1e1e1e" stroke-width="0.6" vector-effect="non-scaling-stroke"/>
<path d="M36,13 L66,13 L63,34 L57,52 L45,52 L39,34 Z" fill="#0a0a0a"/>
<ellipse cx="26" cy="17" rx="11" ry="9" fill="#2a2a2a" stroke="#808080" stroke-width="0.9" vector-effect="non-scaling-stroke"/>
<ellipse cx="72" cy="17" rx="11" ry="9" fill="#2a2a2a" stroke="#808080" stroke-width="0.9" vector-effect="non-scaling-stroke"/>
<path d="M47,1 L54,1 L53,14 L48,14 Z" fill="#7a7a7a"/>
<path d="M50.0,5.5 C58.5,5.5 69.2,10.2 75.5,13.6 C81.9,17.1 85.4,21.4 88.1,26.2 C90.8,31.0 90.8,36.7 91.8,42.4 C92.8,48.1 94.6,54.5 94.1,60.4 C93.6,66.2 92.2,72.7 88.7,77.5 C85.2,82.3 79.9,86.2 73.4,89.2 C67.0,92.2 57.8,95.5 50.0,95.5 C42.2,95.5 33.0,92.2 26.6,89.2 C20.1,86.2 14.7,82.3 11.3,77.5 C7.8,72.7 6.4,66.2 5.9,60.4 C5.4,54.5 7.2,48.1 8.2,42.4 C9.2,36.7 9.2,31.0 11.9,26.2 C14.6,21.4 18.1,17.1 24.5,13.6 C30.8,10.2 41.5,5.5 50.0,5.5 Z" fill="none" stroke="#5a5a5a" stroke-width="0.7" vector-effect="non-scaling-stroke"/>
<path d="M12,60 L40,50 M90,60 L62,50" stroke="#5a5a5a" stroke-width="0.9" vector-effect="non-scaling-stroke"/>

<ellipse cx="64" cy="57" rx="5" ry="3.5" fill="#a04a60" opacity="0.45"/>
</g>
<ellipse cx="1.5" cy="63" rx="3.5" ry="6" fill="#5a5a5a"/>
<ellipse cx="98.5" cy="63" rx="3.5" ry="6" fill="#5a5a5a"/>
<path d="M50.0,0.0 C59.4,0.0 71.3,5.2 78.3,9.0 C85.4,12.8 89.3,17.7 92.3,23.0 C95.4,28.3 95.3,34.7 96.4,41.0 C97.6,47.3 99.6,54.5 99.0,61.0 C98.4,67.5 96.8,74.7 93.0,80.0 C89.2,85.3 83.2,89.7 76.0,93.0 C68.8,96.3 58.7,100.0 50.0,100.0 C41.3,100.0 31.2,96.3 24.0,93.0 C16.8,89.7 10.8,85.3 7.0,80.0 C3.2,74.7 1.6,67.5 1.0,61.0 C0.4,54.5 2.4,47.3 3.6,41.0 C4.7,34.7 4.6,28.3 7.7,23.0 C10.7,17.7 14.6,12.8 21.7,9.0 C28.7,5.2 40.6,0.0 50.0,0.0 Z" fill="none" stroke="#959595" stroke-width="1.1" vector-effect="non-scaling-stroke"/></g></g>
<text x="6.9" y="72.4" class="cn">①</text>
</g>
<g transform="translate(89.5,160.3)">
<rect x="0" y="0" width="75" height="75" fill="#050505"/>
<g filter="url(#bl)"><g transform="translate(11.4,9) scale(0.5310,0.5700)"><clipPath id="hc1"><path d="M50.0,0.0 C57.3,0.0 66.0,5.2 72.0,9.0 C78.0,12.8 82.2,17.7 86.0,23.0 C89.8,28.3 92.8,34.7 95.0,41.0 C97.2,47.3 99.3,54.5 99.0,61.0 C98.7,67.5 96.8,74.7 93.0,80.0 C89.2,85.3 83.2,89.7 76.0,93.0 C68.8,96.3 58.7,100.0 50.0,100.0 C41.3,100.0 31.2,96.3 24.0,93.0 C16.8,89.7 10.8,85.3 7.0,80.0 C3.2,74.7 1.3,67.5 1.0,61.0 C0.7,54.5 2.8,47.3 5.0,41.0 C7.2,34.7 10.2,28.3 14.0,23.0 C17.8,17.7 22.0,12.8 28.0,9.0 C34.0,5.2 42.7,0.0 50.0,0.0 Z"/></clipPath>
<path d="M50.0,0.0 C57.3,0.0 66.0,5.2 72.0,9.0 C78.0,12.8 82.2,17.7 86.0,23.0 C89.8,28.3 92.8,34.7 95.0,41.0 C97.2,47.3 99.3,54.5 99.0,61.0 C98.7,67.5 96.8,74.7 93.0,80.0 C89.2,85.3 83.2,89.7 76.0,93.0 C68.8,96.3 58.7,100.0 50.0,100.0 C41.3,100.0 31.2,96.3 24.0,93.0 C16.8,89.7 10.8,85.3 7.0,80.0 C3.2,74.7 1.3,67.5 1.0,61.0 C0.7,54.5 2.8,47.3 5.0,41.0 C7.2,34.7 10.2,28.3 14.0,23.0 C17.8,17.7 22.0,12.8 28.0,9.0 C34.0,5.2 42.7,0.0 50.0,0.0 Z" fill="#1e1e1e"/>
<g clip-path="url(#hc1)">
<ellipse cx="22" cy="44" rx="15" ry="18" fill="#383838"/>
<ellipse cx="80" cy="44" rx="15" ry="18" fill="#383838"/>
<path d="M14,66 C14,54 30,50 51,52 C72,50 88,54 88,66 C88,82 72,92 51,92 C30,92 14,82 14,66 Z" fill="#3e3e3e"/>
<path d="M51,60 L51,90" stroke="#1e1e1e" stroke-width="0.6" vector-effect="non-scaling-stroke"/>
<path d="M36,10 L64,10 L62,34 L57,50 L45,50 L40,34 Z" fill="#1a1a1a"/>
<ellipse cx="23" cy="28" rx="11" ry="9" fill="#2a2a2a" stroke="#808080" stroke-width="0.9" vector-effect="non-scaling-stroke"/>
<ellipse cx="77" cy="28" rx="11" ry="9" fill="#2a2a2a" stroke="#808080" stroke-width="0.9" vector-effect="non-scaling-stroke"/>
<path d="M47,1 L54,1 L53,14 L48,14 Z" fill="#7a7a7a"/>
<path d="M50.0,5.5 C56.6,5.5 64.4,10.2 69.8,13.6 C75.2,17.1 79.0,21.4 82.4,26.2 C85.9,31.0 88.5,36.7 90.5,42.4 C92.5,48.1 94.4,54.5 94.1,60.4 C93.8,66.2 92.2,72.7 88.7,77.5 C85.2,82.3 79.9,86.2 73.4,89.2 C67.0,92.2 57.8,95.5 50.0,95.5 C42.2,95.5 33.0,92.2 26.6,89.2 C20.1,86.2 14.7,82.3 11.3,77.5 C7.8,72.7 6.2,66.2 5.9,60.4 C5.6,54.5 7.5,48.1 9.5,42.4 C11.5,36.7 14.2,31.0 17.6,26.2 C21.1,21.4 24.8,17.1 30.2,13.6 C35.6,10.2 43.4,5.5 50.0,5.5 Z" fill="none" stroke="#5a5a5a" stroke-width="0.7" vector-effect="non-scaling-stroke"/>
<path d="M12,60 L40,50 M90,60 L62,50" stroke="#5a5a5a" stroke-width="0.9" vector-effect="non-scaling-stroke"/>

<ellipse cx="62" cy="59" rx="6" ry="4" fill="#a04a60" opacity="0.45"/>
<ellipse cx="33" cy="46" rx="3" ry="3" fill="#9a9a9a"/>
</g>
<ellipse cx="1.5" cy="63" rx="3.5" ry="6" fill="#5a5a5a"/>
<ellipse cx="98.5" cy="63" rx="3.5" ry="6" fill="#5a5a5a"/>
<path d="M50.0,0.0 C57.3,0.0 66.0,5.2 72.0,9.0 C78.0,12.8 82.2,17.7 86.0,23.0 C89.8,28.3 92.8,34.7 95.0,41.0 C97.2,47.3 99.3,54.5 99.0,61.0 C98.7,67.5 96.8,74.7 93.0,80.0 C89.2,85.3 83.2,89.7 76.0,93.0 C68.8,96.3 58.7,100.0 50.0,100.0 C41.3,100.0 31.2,96.3 24.0,93.0 C16.8,89.7 10.8,85.3 7.0,80.0 C3.2,74.7 1.3,67.5 1.0,61.0 C0.7,54.5 2.8,47.3 5.0,41.0 C7.2,34.7 10.2,28.3 14.0,23.0 C17.8,17.7 22.0,12.8 28.0,9.0 C34.0,5.2 42.7,0.0 50.0,0.0 Z" fill="none" stroke="#959595" stroke-width="1.1" vector-effect="non-scaling-stroke"/></g></g>
<text x="6.9" y="72.4" class="cn">②</text>
</g>
<g transform="translate(167.8,160.3)">
<rect x="0" y="0" width="75" height="75" fill="#050505"/>
<g filter="url(#bl)"><g transform="translate(11,13.9) scale(0.5430,0.5430)"><clipPath id="hc2"><path d="M50.0,0.0 C58.0,0.0 67.8,5.2 74.1,9.0 C80.5,12.8 84.6,17.7 88.1,23.0 C91.7,28.3 93.7,34.7 95.5,41.0 C97.3,47.3 99.4,54.5 99.0,61.0 C98.6,67.5 96.8,74.7 93.0,80.0 C89.2,85.3 83.2,89.7 76.0,93.0 C68.8,96.3 58.7,100.0 50.0,100.0 C41.3,100.0 31.2,96.3 24.0,93.0 C16.8,89.7 10.8,85.3 7.0,80.0 C3.2,74.7 1.4,67.5 1.0,61.0 C0.6,54.5 2.7,47.3 4.5,41.0 C6.3,34.7 8.3,28.3 11.9,23.0 C15.4,17.7 19.5,12.8 25.9,9.0 C32.2,5.2 42.0,0.0 50.0,0.0 Z"/></clipPath>
<path d="M50.0,0.0 C58.0,0.0 67.8,5.2 74.1,9.0 C80.5,12.8 84.6,17.7 88.1,23.0 C91.7,28.3 93.7,34.7 95.5,41.0 C97.3,47.3 99.4,54.5 99.0,61.0 C98.6,67.5 96.8,74.7 93.0,80.0 C89.2,85.3 83.2,89.7 76.0,93.0 C68.8,96.3 58.7,100.0 50.0,100.0 C41.3,100.0 31.2,96.3 24.0,93.0 C16.8,89.7 10.8,85.3 7.0,80.0 C3.2,74.7 1.4,67.5 1.0,61.0 C0.6,54.5 2.7,47.3 4.5,41.0 C6.3,34.7 8.3,28.3 11.9,23.0 C15.4,17.7 19.5,12.8 25.9,9.0 C32.2,5.2 42.0,0.0 50.0,0.0 Z" fill="#1e1e1e"/>
<g clip-path="url(#hc2)">
<ellipse cx="22" cy="44" rx="15" ry="18" fill="#383838"/>
<ellipse cx="80" cy="44" rx="15" ry="18" fill="#383838"/>
<path d="M14,66 C14,54 30,50 51,52 C72,50 88,54 88,66 C88,82 72,92 51,92 C30,92 14,82 14,66 Z" fill="#3e3e3e"/>
<path d="M51,60 L51,90" stroke="#1e1e1e" stroke-width="0.6" vector-effect="non-scaling-stroke"/>
<path d="M40,14 L62,14 L60,34 L56,46 L46,46 L42,34 Z" fill="#161616"/>
<ellipse cx="27" cy="18" rx="11" ry="9" fill="#2a2a2a" stroke="#808080" stroke-width="0.9" vector-effect="non-scaling-stroke"/>
<ellipse cx="64" cy="18" rx="11" ry="9" fill="#2a2a2a" stroke="#808080" stroke-width="0.9" vector-effect="non-scaling-stroke"/>
<path d="M47,1 L54,1 L53,14 L48,14 Z" fill="#7a7a7a"/>
<path d="M50.0,5.5 C57.2,5.5 66.0,10.2 71.7,13.6 C77.4,17.1 81.1,21.4 84.3,26.2 C87.5,31.0 89.3,36.7 90.9,42.4 C92.6,48.1 94.5,54.5 94.1,60.4 C93.7,66.2 92.2,72.7 88.7,77.5 C85.2,82.3 79.9,86.2 73.4,89.2 C67.0,92.2 57.8,95.5 50.0,95.5 C42.2,95.5 33.0,92.2 26.6,89.2 C20.1,86.2 14.7,82.3 11.3,77.5 C7.8,72.7 6.3,66.2 5.9,60.4 C5.5,54.5 7.4,48.1 9.1,42.4 C10.7,36.7 12.5,31.0 15.7,26.2 C18.9,21.4 22.6,17.1 28.3,13.6 C34.0,10.2 42.8,5.5 50.0,5.5 Z" fill="none" stroke="#5a5a5a" stroke-width="0.7" vector-effect="non-scaling-stroke"/>
<path d="M12,60 L40,50 M90,60 L62,50" stroke="#5a5a5a" stroke-width="0.9" vector-effect="non-scaling-stroke"/>

<ellipse cx="42" cy="62" rx="7" ry="5" fill="#a04a60" opacity="0.4"/>
<ellipse cx="35" cy="57" rx="3.5" ry="3" fill="#d8d8d8"/>
</g>
<ellipse cx="1.5" cy="63" rx="3.5" ry="6" fill="#5a5a5a"/>
<ellipse cx="98.5" cy="63" rx="3.5" ry="6" fill="#5a5a5a"/>
<path d="M50.0,0.0 C58.0,0.0 67.8,5.2 74.1,9.0 C80.5,12.8 84.6,17.7 88.1,23.0 C91.7,28.3 93.7,34.7 95.5,41.0 C97.3,47.3 99.4,54.5 99.0,61.0 C98.6,67.5 96.8,74.7 93.0,80.0 C89.2,85.3 83.2,89.7 76.0,93.0 C68.8,96.3 58.7,100.0 50.0,100.0 C41.3,100.0 31.2,96.3 24.0,93.0 C16.8,89.7 10.8,85.3 7.0,80.0 C3.2,74.7 1.4,67.5 1.0,61.0 C0.6,54.5 2.7,47.3 4.5,41.0 C6.3,34.7 8.3,28.3 11.9,23.0 C15.4,17.7 19.5,12.8 25.9,9.0 C32.2,5.2 42.0,0.0 50.0,0.0 Z" fill="none" stroke="#959595" stroke-width="1.1" vector-effect="non-scaling-stroke"/></g></g>
<text x="6.9" y="72.4" class="cn">③</text>
</g>
<g transform="translate(246,160.3)">
<rect x="0" y="0" width="75" height="75" fill="#050505"/>
<g filter="url(#bl)"><g transform="translate(9.5,8.4) scale(0.5650,0.5980)"><clipPath id="hc3"><path d="M50.0,0.0 C57.3,0.0 66.0,5.2 72.0,9.0 C78.0,12.8 82.2,17.7 86.0,23.0 C89.8,28.3 92.8,34.7 95.0,41.0 C97.2,47.3 99.3,54.5 99.0,61.0 C98.7,67.5 96.8,74.7 93.0,80.0 C89.2,85.3 83.2,89.7 76.0,93.0 C68.8,96.3 58.7,100.0 50.0,100.0 C41.3,100.0 31.2,96.3 24.0,93.0 C16.8,89.7 10.8,85.3 7.0,80.0 C3.2,74.7 1.3,67.5 1.0,61.0 C0.7,54.5 2.8,47.3 5.0,41.0 C7.2,34.7 10.2,28.3 14.0,23.0 C17.8,17.7 22.0,12.8 28.0,9.0 C34.0,5.2 42.7,0.0 50.0,0.0 Z"/></clipPath>
<path d="M50.0,0.0 C57.3,0.0 66.0,5.2 72.0,9.0 C78.0,12.8 82.2,17.7 86.0,23.0 C89.8,28.3 92.8,34.7 95.0,41.0 C97.2,47.3 99.3,54.5 99.0,61.0 C98.7,67.5 96.8,74.7 93.0,80.0 C89.2,85.3 83.2,89.7 76.0,93.0 C68.8,96.3 58.7,100.0 50.0,100.0 C41.3,100.0 31.2,96.3 24.0,93.0 C16.8,89.7 10.8,85.3 7.0,80.0 C3.2,74.7 1.3,67.5 1.0,61.0 C0.7,54.5 2.8,47.3 5.0,41.0 C7.2,34.7 10.2,28.3 14.0,23.0 C17.8,17.7 22.0,12.8 28.0,9.0 C34.0,5.2 42.7,0.0 50.0,0.0 Z" fill="#1e1e1e"/>
<g clip-path="url(#hc3)">
<ellipse cx="22" cy="44" rx="15" ry="18" fill="#383838"/>
<ellipse cx="80" cy="44" rx="15" ry="18" fill="#383838"/>
<path d="M14,66 C14,54 30,50 51,52 C72,50 88,54 88,66 C88,82 72,92 51,92 C30,92 14,82 14,66 Z" fill="#3e3e3e"/>
<path d="M51,60 L51,90" stroke="#1e1e1e" stroke-width="0.6" vector-effect="non-scaling-stroke"/>
<path d="M40,22 L62,22 L60,38 L56,48 L46,48 L42,38 Z" fill="#151515"/>
<ellipse cx="28" cy="26" rx="11" ry="9" fill="#2a2a2a" stroke="#808080" stroke-width="0.9" vector-effect="non-scaling-stroke"/>
<ellipse cx="73" cy="26" rx="11" ry="9" fill="#2a2a2a" stroke="#808080" stroke-width="0.9" vector-effect="non-scaling-stroke"/>
<path d="M47,1 L54,1 L53,14 L48,14 Z" fill="#7a7a7a"/>
<path d="M50.0,5.5 C56.6,5.5 64.4,10.2 69.8,13.6 C75.2,17.1 79.0,21.4 82.4,26.2 C85.9,31.0 88.5,36.7 90.5,42.4 C92.5,48.1 94.4,54.5 94.1,60.4 C93.8,66.2 92.2,72.7 88.7,77.5 C85.2,82.3 79.9,86.2 73.4,89.2 C67.0,92.2 57.8,95.5 50.0,95.5 C42.2,95.5 33.0,92.2 26.6,89.2 C20.1,86.2 14.7,82.3 11.3,77.5 C7.8,72.7 6.2,66.2 5.9,60.4 C5.6,54.5 7.5,48.1 9.5,42.4 C11.5,36.7 14.2,31.0 17.6,26.2 C21.1,21.4 24.8,17.1 30.2,13.6 C35.6,10.2 43.4,5.5 50.0,5.5 Z" fill="none" stroke="#5a5a5a" stroke-width="0.7" vector-effect="non-scaling-stroke"/>
<path d="M12,60 L40,50 M90,60 L62,50" stroke="#5a5a5a" stroke-width="0.9" vector-effect="non-scaling-stroke"/>

<ellipse cx="48" cy="60" rx="6" ry="4" fill="#a04a60" opacity="0.45"/>
</g>
<ellipse cx="1.5" cy="63" rx="3.5" ry="6" fill="#5a5a5a"/>
<ellipse cx="98.5" cy="63" rx="3.5" ry="6" fill="#5a5a5a"/>
<path d="M50.0,0.0 C57.3,0.0 66.0,5.2 72.0,9.0 C78.0,12.8 82.2,17.7 86.0,23.0 C89.8,28.3 92.8,34.7 95.0,41.0 C97.2,47.3 99.3,54.5 99.0,61.0 C98.7,67.5 96.8,74.7 93.0,80.0 C89.2,85.3 83.2,89.7 76.0,93.0 C68.8,96.3 58.7,100.0 50.0,100.0 C41.3,100.0 31.2,96.3 24.0,93.0 C16.8,89.7 10.8,85.3 7.0,80.0 C3.2,74.7 1.3,67.5 1.0,61.0 C0.7,54.5 2.8,47.3 5.0,41.0 C7.2,34.7 10.2,28.3 14.0,23.0 C17.8,17.7 22.0,12.8 28.0,9.0 C34.0,5.2 42.7,0.0 50.0,0.0 Z" fill="none" stroke="#959595" stroke-width="1.1" vector-effect="non-scaling-stroke"/></g></g>
<text x="6.9" y="72.4" class="cn">④</text>
</g>
<g transform="translate(324.7,160.3)">
<rect x="0" y="0" width="73.9" height="75" fill="#050505"/>
<g filter="url(#bl)"><g transform="translate(12.3,9.5) scale(0.5020,0.5310)"><clipPath id="hc4"><path d="M50.0,0.0 C60.5,0.0 73.9,5.2 81.5,9.0 C89.1,12.8 92.9,17.7 95.5,23.0 C98.1,28.3 96.6,34.7 97.2,41.0 C97.7,47.3 99.7,54.5 99.0,61.0 C98.3,67.5 96.8,74.7 93.0,80.0 C89.2,85.3 83.2,89.7 76.0,93.0 C68.8,96.3 58.7,100.0 50.0,100.0 C41.3,100.0 31.2,96.3 24.0,93.0 C16.8,89.7 10.8,85.3 7.0,80.0 C3.2,74.7 1.7,67.5 1.0,61.0 C0.3,54.5 2.3,47.3 2.8,41.0 C3.4,34.7 1.9,28.3 4.5,23.0 C7.1,17.7 10.9,12.8 18.5,9.0 C26.1,5.2 39.5,0.0 50.0,0.0 Z"/></clipPath>
<path d="M50.0,0.0 C60.5,0.0 73.9,5.2 81.5,9.0 C89.1,12.8 92.9,17.7 95.5,23.0 C98.1,28.3 96.6,34.7 97.2,41.0 C97.7,47.3 99.7,54.5 99.0,61.0 C98.3,67.5 96.8,74.7 93.0,80.0 C89.2,85.3 83.2,89.7 76.0,93.0 C68.8,96.3 58.7,100.0 50.0,100.0 C41.3,100.0 31.2,96.3 24.0,93.0 C16.8,89.7 10.8,85.3 7.0,80.0 C3.2,74.7 1.7,67.5 1.0,61.0 C0.3,54.5 2.3,47.3 2.8,41.0 C3.4,34.7 1.9,28.3 4.5,23.0 C7.1,17.7 10.9,12.8 18.5,9.0 C26.1,5.2 39.5,0.0 50.0,0.0 Z" fill="#1e1e1e"/>
<g clip-path="url(#hc4)">
<ellipse cx="22" cy="44" rx="15" ry="18" fill="#383838"/>
<ellipse cx="80" cy="44" rx="15" ry="18" fill="#383838"/>
<path d="M14,66 C14,54 30,50 51,52 C72,50 88,54 88,66 C88,82 72,92 51,92 C30,92 14,82 14,66 Z" fill="#3e3e3e"/>
<path d="M51,60 L51,90" stroke="#1e1e1e" stroke-width="0.6" vector-effect="non-scaling-stroke"/>
<path d="M40,12 L62,12 L60,34 L56,48 L46,48 L42,34 Z" fill="#0a0a0a"/>
<ellipse cx="27" cy="16" rx="11" ry="9" fill="#2a2a2a" stroke="#808080" stroke-width="0.9" vector-effect="non-scaling-stroke"/>
<ellipse cx="70" cy="16" rx="11" ry="9" fill="#2a2a2a" stroke="#808080" stroke-width="0.9" vector-effect="non-scaling-stroke"/>
<path d="M47,1 L54,1 L53,14 L48,14 Z" fill="#7a7a7a"/>
<path d="M50.0,5.5 C59.5,5.5 71.5,10.2 78.4,13.6 C85.2,17.1 88.6,21.4 91.0,26.2 C93.3,31.0 91.9,36.7 92.4,42.4 C93.0,48.1 94.7,54.5 94.1,60.4 C93.5,66.2 92.2,72.7 88.7,77.5 C85.2,82.3 79.9,86.2 73.4,89.2 C67.0,92.2 57.8,95.5 50.0,95.5 C42.2,95.5 33.0,92.2 26.6,89.2 C20.1,86.2 14.7,82.3 11.3,77.5 C7.8,72.7 6.5,66.2 5.9,60.4 C5.3,54.5 7.0,48.1 7.6,42.4 C8.1,36.7 6.7,31.0 9.0,26.2 C11.4,21.4 14.8,17.1 21.6,13.6 C28.5,10.2 40.5,5.5 50.0,5.5 Z" fill="none" stroke="#5a5a5a" stroke-width="0.7" vector-effect="non-scaling-stroke"/>
<path d="M12,60 L40,50 M90,60 L62,50" stroke="#5a5a5a" stroke-width="0.9" vector-effect="non-scaling-stroke"/>

<ellipse cx="40" cy="60" rx="6" ry="5" fill="#a04a60" opacity="0.5"/>
</g>
<ellipse cx="1.5" cy="63" rx="3.5" ry="6" fill="#5a5a5a"/>
<ellipse cx="98.5" cy="63" rx="3.5" ry="6" fill="#5a5a5a"/>
<path d="M50.0,0.0 C60.5,0.0 73.9,5.2 81.5,9.0 C89.1,12.8 92.9,17.7 95.5,23.0 C98.1,28.3 96.6,34.7 97.2,41.0 C97.7,47.3 99.7,54.5 99.0,61.0 C98.3,67.5 96.8,74.7 93.0,80.0 C89.2,85.3 83.2,89.7 76.0,93.0 C68.8,96.3 58.7,100.0 50.0,100.0 C41.3,100.0 31.2,96.3 24.0,93.0 C16.8,89.7 10.8,85.3 7.0,80.0 C3.2,74.7 1.7,67.5 1.0,61.0 C0.3,54.5 2.3,47.3 2.8,41.0 C3.4,34.7 1.9,28.3 4.5,23.0 C7.1,17.7 10.9,12.8 18.5,9.0 C26.1,5.2 39.5,0.0 50.0,0.0 Z" fill="none" stroke="#959595" stroke-width="1.1" vector-effect="non-scaling-stroke"/></g></g>
<text x="6.9" y="72.4" class="cn">⑤</text>
</g>
<g transform="translate(11.1,240.1)">
<rect x="0" y="0" width="75" height="74.3" fill="#050505"/>
<g filter="url(#bl)"><g transform="translate(10.6,7.4) scale(0.5430,0.5430)"><clipPath id="hc5"><path d="M50.0,0.0 C57.3,0.0 66.0,5.2 72.0,9.0 C78.0,12.8 82.2,17.7 86.0,23.0 C89.8,28.3 92.8,34.7 95.0,41.0 C97.2,47.3 99.3,54.5 99.0,61.0 C98.7,67.5 96.8,74.7 93.0,80.0 C89.2,85.3 83.2,89.7 76.0,93.0 C68.8,96.3 58.7,100.0 50.0,100.0 C41.3,100.0 31.2,96.3 24.0,93.0 C16.8,89.7 10.8,85.3 7.0,80.0 C3.2,74.7 1.3,67.5 1.0,61.0 C0.7,54.5 2.8,47.3 5.0,41.0 C7.2,34.7 10.2,28.3 14.0,23.0 C17.8,17.7 22.0,12.8 28.0,9.0 C34.0,5.2 42.7,0.0 50.0,0.0 Z"/></clipPath>
<path d="M50.0,0.0 C57.3,0.0 66.0,5.2 72.0,9.0 C78.0,12.8 82.2,17.7 86.0,23.0 C89.8,28.3 92.8,34.7 95.0,41.0 C97.2,47.3 99.3,54.5 99.0,61.0 C98.7,67.5 96.8,74.7 93.0,80.0 C89.2,85.3 83.2,89.7 76.0,93.0 C68.8,96.3 58.7,100.0 50.0,100.0 C41.3,100.0 31.2,96.3 24.0,93.0 C16.8,89.7 10.8,85.3 7.0,80.0 C3.2,74.7 1.3,67.5 1.0,61.0 C0.7,54.5 2.8,47.3 5.0,41.0 C7.2,34.7 10.2,28.3 14.0,23.0 C17.8,17.7 22.0,12.8 28.0,9.0 C34.0,5.2 42.7,0.0 50.0,0.0 Z" fill="#1e1e1e"/>
<g clip-path="url(#hc5)">
<ellipse cx="22" cy="44" rx="15" ry="18" fill="#383838"/>
<ellipse cx="80" cy="44" rx="15" ry="18" fill="#383838"/>
<path d="M14,66 C14,54 30,50 51,52 C72,50 88,54 88,66 C88,82 72,92 51,92 C30,92 14,82 14,66 Z" fill="#3e3e3e"/>
<path d="M51,60 L51,90" stroke="#1e1e1e" stroke-width="0.6" vector-effect="non-scaling-stroke"/>
<path d="M38,12 L62,12 L61,36 L57,50 L45,50 L41,36 Z" fill="#0a0a0a"/>
<ellipse cx="25" cy="26" rx="11" ry="9" fill="#2a2a2a" stroke="#808080" stroke-width="0.9" vector-effect="non-scaling-stroke"/>
<ellipse cx="69" cy="26" rx="11" ry="9" fill="#2a2a2a" stroke="#808080" stroke-width="0.9" vector-effect="non-scaling-stroke"/>
<path d="M47,1 L54,1 L53,14 L48,14 Z" fill="#7a7a7a"/>
<path d="M50.0,5.5 C56.6,5.5 64.4,10.2 69.8,13.6 C75.2,17.1 79.0,21.4 82.4,26.2 C85.9,31.0 88.5,36.7 90.5,42.4 C92.5,48.1 94.4,54.5 94.1,60.4 C93.8,66.2 92.2,72.7 88.7,77.5 C85.2,82.3 79.9,86.2 73.4,89.2 C67.0,92.2 57.8,95.5 50.0,95.5 C42.2,95.5 33.0,92.2 26.6,89.2 C20.1,86.2 14.7,82.3 11.3,77.5 C7.8,72.7 6.2,66.2 5.9,60.4 C5.6,54.5 7.5,48.1 9.5,42.4 C11.5,36.7 14.2,31.0 17.6,26.2 C21.1,21.4 24.8,17.1 30.2,13.6 C35.6,10.2 43.4,5.5 50.0,5.5 Z" fill="none" stroke="#5a5a5a" stroke-width="0.7" vector-effect="non-scaling-stroke"/>
<path d="M12,60 L40,50 M90,60 L62,50" stroke="#5a5a5a" stroke-width="0.9" vector-effect="non-scaling-stroke"/>

<ellipse cx="42" cy="63" rx="8" ry="5" fill="#a04a60" opacity="0.6"/>
<ellipse cx="40" cy="60" rx="2" ry="2" fill="#d0d0d0"/>
</g>
<ellipse cx="1.5" cy="63" rx="3.5" ry="6" fill="#5a5a5a"/>
<ellipse cx="98.5" cy="63" rx="3.5" ry="6" fill="#5a5a5a"/>
<path d="M50.0,0.0 C57.3,0.0 66.0,5.2 72.0,9.0 C78.0,12.8 82.2,17.7 86.0,23.0 C89.8,28.3 92.8,34.7 95.0,41.0 C97.2,47.3 99.3,54.5 99.0,61.0 C98.7,67.5 96.8,74.7 93.0,80.0 C89.2,85.3 83.2,89.7 76.0,93.0 C68.8,96.3 58.7,100.0 50.0,100.0 C41.3,100.0 31.2,96.3 24.0,93.0 C16.8,89.7 10.8,85.3 7.0,80.0 C3.2,74.7 1.3,67.5 1.0,61.0 C0.7,54.5 2.8,47.3 5.0,41.0 C7.2,34.7 10.2,28.3 14.0,23.0 C17.8,17.7 22.0,12.8 28.0,9.0 C34.0,5.2 42.7,0.0 50.0,0.0 Z" fill="none" stroke="#959595" stroke-width="1.1" vector-effect="non-scaling-stroke"/></g></g>
<text x="6.9" y="71.7" class="cn">⑥</text>
</g>
<g transform="translate(89.5,240.1)">
<rect x="0" y="0" width="75" height="74.3" fill="#050505"/>
<g filter="url(#bl)"><g transform="translate(13.6,9.7) scale(0.4690,0.5870)"><clipPath id="hc6"><path d="M50.0,0.0 C57.3,0.0 66.0,5.2 72.0,9.0 C78.0,12.8 82.2,17.7 86.0,23.0 C89.8,28.3 92.8,34.7 95.0,41.0 C97.2,47.3 99.3,54.5 99.0,61.0 C98.7,67.5 96.8,74.7 93.0,80.0 C89.2,85.3 83.2,89.7 76.0,93.0 C68.8,96.3 58.7,100.0 50.0,100.0 C41.3,100.0 31.2,96.3 24.0,93.0 C16.8,89.7 10.8,85.3 7.0,80.0 C3.2,74.7 1.3,67.5 1.0,61.0 C0.7,54.5 2.8,47.3 5.0,41.0 C7.2,34.7 10.2,28.3 14.0,23.0 C17.8,17.7 22.0,12.8 28.0,9.0 C34.0,5.2 42.7,0.0 50.0,0.0 Z"/></clipPath>
<path d="M50.0,0.0 C57.3,0.0 66.0,5.2 72.0,9.0 C78.0,12.8 82.2,17.7 86.0,23.0 C89.8,28.3 92.8,34.7 95.0,41.0 C97.2,47.3 99.3,54.5 99.0,61.0 C98.7,67.5 96.8,74.7 93.0,80.0 C89.2,85.3 83.2,89.7 76.0,93.0 C68.8,96.3 58.7,100.0 50.0,100.0 C41.3,100.0 31.2,96.3 24.0,93.0 C16.8,89.7 10.8,85.3 7.0,80.0 C3.2,74.7 1.3,67.5 1.0,61.0 C0.7,54.5 2.8,47.3 5.0,41.0 C7.2,34.7 10.2,28.3 14.0,23.0 C17.8,17.7 22.0,12.8 28.0,9.0 C34.0,5.2 42.7,0.0 50.0,0.0 Z" fill="#1e1e1e"/>
<g clip-path="url(#hc6)">
<ellipse cx="22" cy="44" rx="15" ry="18" fill="#383838"/>
<ellipse cx="80" cy="44" rx="15" ry="18" fill="#383838"/>
<path d="M14,66 C14,54 30,50 51,52 C72,50 88,54 88,66 C88,82 72,92 51,92 C30,92 14,82 14,66 Z" fill="#3e3e3e"/>
<path d="M51,60 L51,90" stroke="#1e1e1e" stroke-width="0.6" vector-effect="non-scaling-stroke"/>
<path d="M42,26 L60,26 L59,38 L55,46 L47,46 L43,38 Z" fill="#121212"/>
<ellipse cx="26" cy="28" rx="11" ry="9" fill="#2a2a2a" stroke="#808080" stroke-width="0.9" vector-effect="non-scaling-stroke"/>
<ellipse cx="71" cy="28" rx="11" ry="9" fill="#2a2a2a" stroke="#808080" stroke-width="0.9" vector-effect="non-scaling-stroke"/>
<path d="M47,1 L54,1 L53,14 L48,14 Z" fill="#7a7a7a"/>
<path d="M50.0,5.5 C56.6,5.5 64.4,10.2 69.8,13.6 C75.2,17.1 79.0,21.4 82.4,26.2 C85.9,31.0 88.5,36.7 90.5,42.4 C92.5,48.1 94.4,54.5 94.1,60.4 C93.8,66.2 92.2,72.7 88.7,77.5 C85.2,82.3 79.9,86.2 73.4,89.2 C67.0,92.2 57.8,95.5 50.0,95.5 C42.2,95.5 33.0,92.2 26.6,89.2 C20.1,86.2 14.7,82.3 11.3,77.5 C7.8,72.7 6.2,66.2 5.9,60.4 C5.6,54.5 7.5,48.1 9.5,42.4 C11.5,36.7 14.2,31.0 17.6,26.2 C21.1,21.4 24.8,17.1 30.2,13.6 C35.6,10.2 43.4,5.5 50.0,5.5 Z" fill="none" stroke="#5a5a5a" stroke-width="0.7" vector-effect="non-scaling-stroke"/>
<path d="M12,60 L40,50 M90,60 L62,50" stroke="#5a5a5a" stroke-width="0.9" vector-effect="non-scaling-stroke"/>

<ellipse cx="59" cy="60" rx="5" ry="3.5" fill="#a04a60" opacity="0.35"/>
</g>
<ellipse cx="1.5" cy="63" rx="3.5" ry="6" fill="#5a5a5a"/>
<ellipse cx="98.5" cy="63" rx="3.5" ry="6" fill="#5a5a5a"/>
<path d="M50.0,0.0 C57.3,0.0 66.0,5.2 72.0,9.0 C78.0,12.8 82.2,17.7 86.0,23.0 C89.8,28.3 92.8,34.7 95.0,41.0 C97.2,47.3 99.3,54.5 99.0,61.0 C98.7,67.5 96.8,74.7 93.0,80.0 C89.2,85.3 83.2,89.7 76.0,93.0 C68.8,96.3 58.7,100.0 50.0,100.0 C41.3,100.0 31.2,96.3 24.0,93.0 C16.8,89.7 10.8,85.3 7.0,80.0 C3.2,74.7 1.3,67.5 1.0,61.0 C0.7,54.5 2.8,47.3 5.0,41.0 C7.2,34.7 10.2,28.3 14.0,23.0 C17.8,17.7 22.0,12.8 28.0,9.0 C34.0,5.2 42.7,0.0 50.0,0.0 Z" fill="none" stroke="#959595" stroke-width="1.1" vector-effect="non-scaling-stroke"/></g></g>
<text x="6.9" y="71.7" class="cn">⑦</text>
</g>
<g transform="translate(167.8,240.1)">
<rect x="0" y="0" width="75" height="74.3" fill="#050505"/>
<g filter="url(#bl)"><g transform="translate(11,5.2) scale(0.5210,0.6090)"><clipPath id="hc7"><path d="M50.0,0.0 C57.3,0.0 66.0,5.2 72.0,9.0 C78.0,12.8 82.2,17.7 86.0,23.0 C89.8,28.3 92.8,34.7 95.0,41.0 C97.2,47.3 99.3,54.5 99.0,61.0 C98.7,67.5 96.8,74.7 93.0,80.0 C89.2,85.3 83.2,89.7 76.0,93.0 C68.8,96.3 58.7,100.0 50.0,100.0 C41.3,100.0 31.2,96.3 24.0,93.0 C16.8,89.7 10.8,85.3 7.0,80.0 C3.2,74.7 1.3,67.5 1.0,61.0 C0.7,54.5 2.8,47.3 5.0,41.0 C7.2,34.7 10.2,28.3 14.0,23.0 C17.8,17.7 22.0,12.8 28.0,9.0 C34.0,5.2 42.7,0.0 50.0,0.0 Z"/></clipPath>
<path d="M50.0,0.0 C57.3,0.0 66.0,5.2 72.0,9.0 C78.0,12.8 82.2,17.7 86.0,23.0 C89.8,28.3 92.8,34.7 95.0,41.0 C97.2,47.3 99.3,54.5 99.0,61.0 C98.7,67.5 96.8,74.7 93.0,80.0 C89.2,85.3 83.2,89.7 76.0,93.0 C68.8,96.3 58.7,100.0 50.0,100.0 C41.3,100.0 31.2,96.3 24.0,93.0 C16.8,89.7 10.8,85.3 7.0,80.0 C3.2,74.7 1.3,67.5 1.0,61.0 C0.7,54.5 2.8,47.3 5.0,41.0 C7.2,34.7 10.2,28.3 14.0,23.0 C17.8,17.7 22.0,12.8 28.0,9.0 C34.0,5.2 42.7,0.0 50.0,0.0 Z" fill="#1e1e1e"/>
<g clip-path="url(#hc7)">
<ellipse cx="22" cy="44" rx="15" ry="18" fill="#383838"/>
<ellipse cx="80" cy="44" rx="15" ry="18" fill="#383838"/>
<path d="M14,66 C14,54 30,50 51,52 C72,50 88,54 88,66 C88,82 72,92 51,92 C30,92 14,82 14,66 Z" fill="#3e3e3e"/>
<path d="M51,60 L51,90" stroke="#1e1e1e" stroke-width="0.6" vector-effect="non-scaling-stroke"/>
<path d="M42,24 L58,24 L57,34 L54,40 L48,40 L45,34 Z" fill="#101010"/>
<ellipse cx="26" cy="24" rx="11" ry="9" fill="#2a2a2a" stroke="#808080" stroke-width="0.9" vector-effect="non-scaling-stroke"/>
<ellipse cx="68" cy="24" rx="11" ry="9" fill="#2a2a2a" stroke="#808080" stroke-width="0.9" vector-effect="non-scaling-stroke"/>
<path d="M47,1 L54,1 L53,14 L48,14 Z" fill="#7a7a7a"/>
<path d="M50.0,5.5 C56.6,5.5 64.4,10.2 69.8,13.6 C75.2,17.1 79.0,21.4 82.4,26.2 C85.9,31.0 88.5,36.7 90.5,42.4 C92.5,48.1 94.4,54.5 94.1,60.4 C93.8,66.2 92.2,72.7 88.7,77.5 C85.2,82.3 79.9,86.2 73.4,89.2 C67.0,92.2 57.8,95.5 50.0,95.5 C42.2,95.5 33.0,92.2 26.6,89.2 C20.1,86.2 14.7,82.3 11.3,77.5 C7.8,72.7 6.2,66.2 5.9,60.4 C5.6,54.5 7.5,48.1 9.5,42.4 C11.5,36.7 14.2,31.0 17.6,26.2 C21.1,21.4 24.8,17.1 30.2,13.6 C35.6,10.2 43.4,5.5 50.0,5.5 Z" fill="none" stroke="#5a5a5a" stroke-width="0.7" vector-effect="non-scaling-stroke"/>
<path d="M12,60 L40,50 M90,60 L62,50" stroke="#5a5a5a" stroke-width="0.9" vector-effect="non-scaling-stroke"/>

<ellipse cx="45" cy="58" rx="8" ry="5" fill="#a04a60" opacity="0.45"/>
</g>
<ellipse cx="1.5" cy="63" rx="3.5" ry="6" fill="#5a5a5a"/>
<ellipse cx="98.5" cy="63" rx="3.5" ry="6" fill="#5a5a5a"/>
<path d="M50.0,0.0 C57.3,0.0 66.0,5.2 72.0,9.0 C78.0,12.8 82.2,17.7 86.0,23.0 C89.8,28.3 92.8,34.7 95.0,41.0 C97.2,47.3 99.3,54.5 99.0,61.0 C98.7,67.5 96.8,74.7 93.0,80.0 C89.2,85.3 83.2,89.7 76.0,93.0 C68.8,96.3 58.7,100.0 50.0,100.0 C41.3,100.0 31.2,96.3 24.0,93.0 C16.8,89.7 10.8,85.3 7.0,80.0 C3.2,74.7 1.3,67.5 1.0,61.0 C0.7,54.5 2.8,47.3 5.0,41.0 C7.2,34.7 10.2,28.3 14.0,23.0 C17.8,17.7 22.0,12.8 28.0,9.0 C34.0,5.2 42.7,0.0 50.0,0.0 Z" fill="none" stroke="#959595" stroke-width="1.1" vector-effect="non-scaling-stroke"/></g></g>
<text x="6.9" y="71.7" class="cn">⑧</text>
</g>
<g transform="translate(246,240.1)">
<rect x="0" y="0" width="75" height="74.3" fill="#050505"/>
<g filter="url(#bl)"><g transform="translate(12,10.8) scale(0.5540,0.5760)"><clipPath id="hc8"><path d="M50.0,0.0 C60.1,0.0 73.0,5.2 80.4,9.0 C87.9,12.8 91.7,17.7 94.4,23.0 C97.2,28.3 96.2,34.7 96.9,41.0 C97.7,47.3 99.7,54.5 99.0,61.0 C98.3,67.5 96.8,74.7 93.0,80.0 C89.2,85.3 83.2,89.7 76.0,93.0 C68.8,96.3 58.7,100.0 50.0,100.0 C41.3,100.0 31.2,96.3 24.0,93.0 C16.8,89.7 10.8,85.3 7.0,80.0 C3.2,74.7 1.7,67.5 1.0,61.0 C0.3,54.5 2.3,47.3 3.1,41.0 C3.8,34.7 2.8,28.3 5.6,23.0 C8.3,17.7 12.1,12.8 19.6,9.0 C27.0,5.2 39.9,0.0 50.0,0.0 Z"/></clipPath>
<path d="M50.0,0.0 C60.1,0.0 73.0,5.2 80.4,9.0 C87.9,12.8 91.7,17.7 94.4,23.0 C97.2,28.3 96.2,34.7 96.9,41.0 C97.7,47.3 99.7,54.5 99.0,61.0 C98.3,67.5 96.8,74.7 93.0,80.0 C89.2,85.3 83.2,89.7 76.0,93.0 C68.8,96.3 58.7,100.0 50.0,100.0 C41.3,100.0 31.2,96.3 24.0,93.0 C16.8,89.7 10.8,85.3 7.0,80.0 C3.2,74.7 1.7,67.5 1.0,61.0 C0.3,54.5 2.3,47.3 3.1,41.0 C3.8,34.7 2.8,28.3 5.6,23.0 C8.3,17.7 12.1,12.8 19.6,9.0 C27.0,5.2 39.9,0.0 50.0,0.0 Z" fill="#1e1e1e"/>
<g clip-path="url(#hc8)">
<ellipse cx="22" cy="44" rx="15" ry="18" fill="#383838"/>
<ellipse cx="80" cy="44" rx="15" ry="18" fill="#383838"/>
<path d="M14,66 C14,54 30,50 51,52 C72,50 88,54 88,66 C88,82 72,92 51,92 C30,92 14,82 14,66 Z" fill="#3e3e3e"/>
<path d="M51,60 L51,90" stroke="#1e1e1e" stroke-width="0.6" vector-effect="non-scaling-stroke"/>
<path d="M40,12 L62,12 L60,36 L56,52 L46,52 L42,36 Z" fill="#0a0a0a"/>
<ellipse cx="28" cy="17" rx="11" ry="9" fill="#2a2a2a" stroke="#808080" stroke-width="0.9" vector-effect="non-scaling-stroke"/>
<ellipse cx="67" cy="16" rx="11" ry="9" fill="#2a2a2a" stroke="#808080" stroke-width="0.9" vector-effect="non-scaling-stroke"/>
<path d="M47,1 L54,1 L53,14 L48,14 Z" fill="#7a7a7a"/>
<path d="M50.0,5.5 C59.1,5.5 70.7,10.2 77.4,13.6 C84.1,17.1 87.5,21.4 90.0,26.2 C92.5,31.0 91.5,36.7 92.2,42.4 C92.9,48.1 94.7,54.5 94.1,60.4 C93.5,66.2 92.2,72.7 88.7,77.5 C85.2,82.3 79.9,86.2 73.4,89.2 C67.0,92.2 57.8,95.5 50.0,95.5 C42.2,95.5 33.0,92.2 26.6,89.2 C20.1,86.2 14.7,82.3 11.3,77.5 C7.8,72.7 6.5,66.2 5.9,60.4 C5.3,54.5 7.1,48.1 7.8,42.4 C8.5,36.7 7.5,31.0 10.0,26.2 C12.5,21.4 15.9,17.1 22.6,13.6 C29.3,10.2 40.9,5.5 50.0,5.5 Z" fill="none" stroke="#5a5a5a" stroke-width="0.7" vector-effect="non-scaling-stroke"/>
<path d="M12,60 L40,50 M90,60 L62,50" stroke="#5a5a5a" stroke-width="0.9" vector-effect="non-scaling-stroke"/>

<ellipse cx="36" cy="61" rx="6" ry="4" fill="#a04a60" opacity="0.4"/>
<ellipse cx="78" cy="65" rx="2" ry="2" fill="#c8c8c8"/>
</g>
<ellipse cx="1.5" cy="63" rx="3.5" ry="6" fill="#5a5a5a"/>
<ellipse cx="98.5" cy="63" rx="3.5" ry="6" fill="#5a5a5a"/>
<path d="M50.0,0.0 C60.1,0.0 73.0,5.2 80.4,9.0 C87.9,12.8 91.7,17.7 94.4,23.0 C97.2,28.3 96.2,34.7 96.9,41.0 C97.7,47.3 99.7,54.5 99.0,61.0 C98.3,67.5 96.8,74.7 93.0,80.0 C89.2,85.3 83.2,89.7 76.0,93.0 C68.8,96.3 58.7,100.0 50.0,100.0 C41.3,100.0 31.2,96.3 24.0,93.0 C16.8,89.7 10.8,85.3 7.0,80.0 C3.2,74.7 1.7,67.5 1.0,61.0 C0.3,54.5 2.3,47.3 3.1,41.0 C3.8,34.7 2.8,28.3 5.6,23.0 C8.3,17.7 12.1,12.8 19.6,9.0 C27.0,5.2 39.9,0.0 50.0,0.0 Z" fill="none" stroke="#959595" stroke-width="1.1" vector-effect="non-scaling-stroke"/></g></g>
<text x="6.9" y="71.7" class="cn">⑨</text>
</g>
<g transform="translate(324.7,240.1)">
<rect x="0" y="0" width="73.9" height="74.3" fill="url(#bg10)"/>
<g filter="url(#bl)"><g transform="translate(4.7,4.4) scale(0.6610,0.6700)"><clipPath id="hc9"><path d="M50.0,0.0 C57.3,0.0 66.0,5.2 72.0,9.0 C78.0,12.8 82.2,17.7 86.0,23.0 C89.8,28.3 92.8,34.7 95.0,41.0 C97.2,47.3 99.3,54.5 99.0,61.0 C98.7,67.5 96.8,74.7 93.0,80.0 C89.2,85.3 83.2,89.7 76.0,93.0 C68.8,96.3 58.7,100.0 50.0,100.0 C41.3,100.0 31.2,96.3 24.0,93.0 C16.8,89.7 10.8,85.3 7.0,80.0 C3.2,74.7 1.3,67.5 1.0,61.0 C0.7,54.5 2.8,47.3 5.0,41.0 C7.2,34.7 10.2,28.3 14.0,23.0 C17.8,17.7 22.0,12.8 28.0,9.0 C34.0,5.2 42.7,0.0 50.0,0.0 Z"/></clipPath>
<path d="M50.0,0.0 C57.3,0.0 66.0,5.2 72.0,9.0 C78.0,12.8 82.2,17.7 86.0,23.0 C89.8,28.3 92.8,34.7 95.0,41.0 C97.2,47.3 99.3,54.5 99.0,61.0 C98.7,67.5 96.8,74.7 93.0,80.0 C89.2,85.3 83.2,89.7 76.0,93.0 C68.8,96.3 58.7,100.0 50.0,100.0 C41.3,100.0 31.2,96.3 24.0,93.0 C16.8,89.7 10.8,85.3 7.0,80.0 C3.2,74.7 1.3,67.5 1.0,61.0 C0.7,54.5 2.8,47.3 5.0,41.0 C7.2,34.7 10.2,28.3 14.0,23.0 C17.8,17.7 22.0,12.8 28.0,9.0 C34.0,5.2 42.7,0.0 50.0,0.0 Z" fill="#7e8088"/>
<g clip-path="url(#hc9)">
<ellipse cx="22" cy="44" rx="15" ry="18" fill="#9c9ea6"/>
<ellipse cx="80" cy="44" rx="15" ry="18" fill="#9c9ea6"/>
<path d="M14,66 C14,54 30,50 51,52 C72,50 88,54 88,66 C88,82 72,92 51,92 C30,92 14,82 14,66 Z" fill="#b2b4bc"/>
<path d="M51,60 L51,90" stroke="#7e8088" stroke-width="0.6" vector-effect="non-scaling-stroke"/>
<path d="M38,30 L64,30 L65,42 L59,49 L51,45 L44,49 L38,42 Z" fill="#15161f"/>
<ellipse cx="31" cy="21" rx="10" ry="9" fill="#4a4c58" stroke="#f0f0f2" stroke-width="0.9" vector-effect="non-scaling-stroke"/>
<ellipse cx="70" cy="21" rx="10" ry="9" fill="#4a4c58" stroke="#f0f0f2" stroke-width="0.9" vector-effect="non-scaling-stroke"/>
<path d="M47,1 L54,1 L53,14 L48,14 Z" fill="#e0e0e4"/>
<path d="M50.0,5.5 C56.6,5.5 64.4,10.2 69.8,13.6 C75.2,17.1 79.0,21.4 82.4,26.2 C85.9,31.0 88.5,36.7 90.5,42.4 C92.5,48.1 94.4,54.5 94.1,60.4 C93.8,66.2 92.2,72.7 88.7,77.5 C85.2,82.3 79.9,86.2 73.4,89.2 C67.0,92.2 57.8,95.5 50.0,95.5 C42.2,95.5 33.0,92.2 26.6,89.2 C20.1,86.2 14.7,82.3 11.3,77.5 C7.8,72.7 6.2,66.2 5.9,60.4 C5.6,54.5 7.5,48.1 9.5,42.4 C11.5,36.7 14.2,31.0 17.6,26.2 C21.1,21.4 24.8,17.1 30.2,13.6 C35.6,10.2 43.4,5.5 50.0,5.5 Z" fill="none" stroke="#c8c8ce" stroke-width="0.7" vector-effect="non-scaling-stroke"/>
<path d="M12,60 L40,50 M90,60 L62,50" stroke="#c8c8ce" stroke-width="0.9" vector-effect="non-scaling-stroke"/>
<ellipse cx="50" cy="13" rx="7" ry="12" fill="#cfd0d6"/><ellipse cx="27" cy="56" rx="13" ry="8.5" fill="#2c2d3a"/><ellipse cx="71" cy="56" rx="12" ry="7.5" fill="#34353f"/><path d="M20,30 C26,38 34,40 40,36 M80,30 C74,38 66,40 60,36" stroke="#e8e8ec" stroke-width="1" fill="none" vector-effect="non-scaling-stroke"/>
<ellipse cx="68" cy="57" rx="9" ry="3.2" fill="#c82838" opacity="0.85"/>
</g>
<ellipse cx="1.5" cy="63" rx="3.5" ry="6" fill="#c8c8ce"/>
<ellipse cx="98.5" cy="63" rx="3.5" ry="6" fill="#c8c8ce"/>
<path d="M50.0,0.0 C57.3,0.0 66.0,5.2 72.0,9.0 C78.0,12.8 82.2,17.7 86.0,23.0 C89.8,28.3 92.8,34.7 95.0,41.0 C97.2,47.3 99.3,54.5 99.0,61.0 C98.7,67.5 96.8,74.7 93.0,80.0 C89.2,85.3 83.2,89.7 76.0,93.0 C68.8,96.3 58.7,100.0 50.0,100.0 C41.3,100.0 31.2,96.3 24.0,93.0 C16.8,89.7 10.8,85.3 7.0,80.0 C3.2,74.7 1.3,67.5 1.0,61.0 C0.7,54.5 2.8,47.3 5.0,41.0 C7.2,34.7 10.2,28.3 14.0,23.0 C17.8,17.7 22.0,12.8 28.0,9.0 C34.0,5.2 42.7,0.0 50.0,0.0 Z" fill="none" stroke="#ececf0" stroke-width="1.6" vector-effect="non-scaling-stroke"/></g></g>
<text x="6.9" y="71.7" class="cn">⑩</text>
</g>
</svg>
</body></html>
